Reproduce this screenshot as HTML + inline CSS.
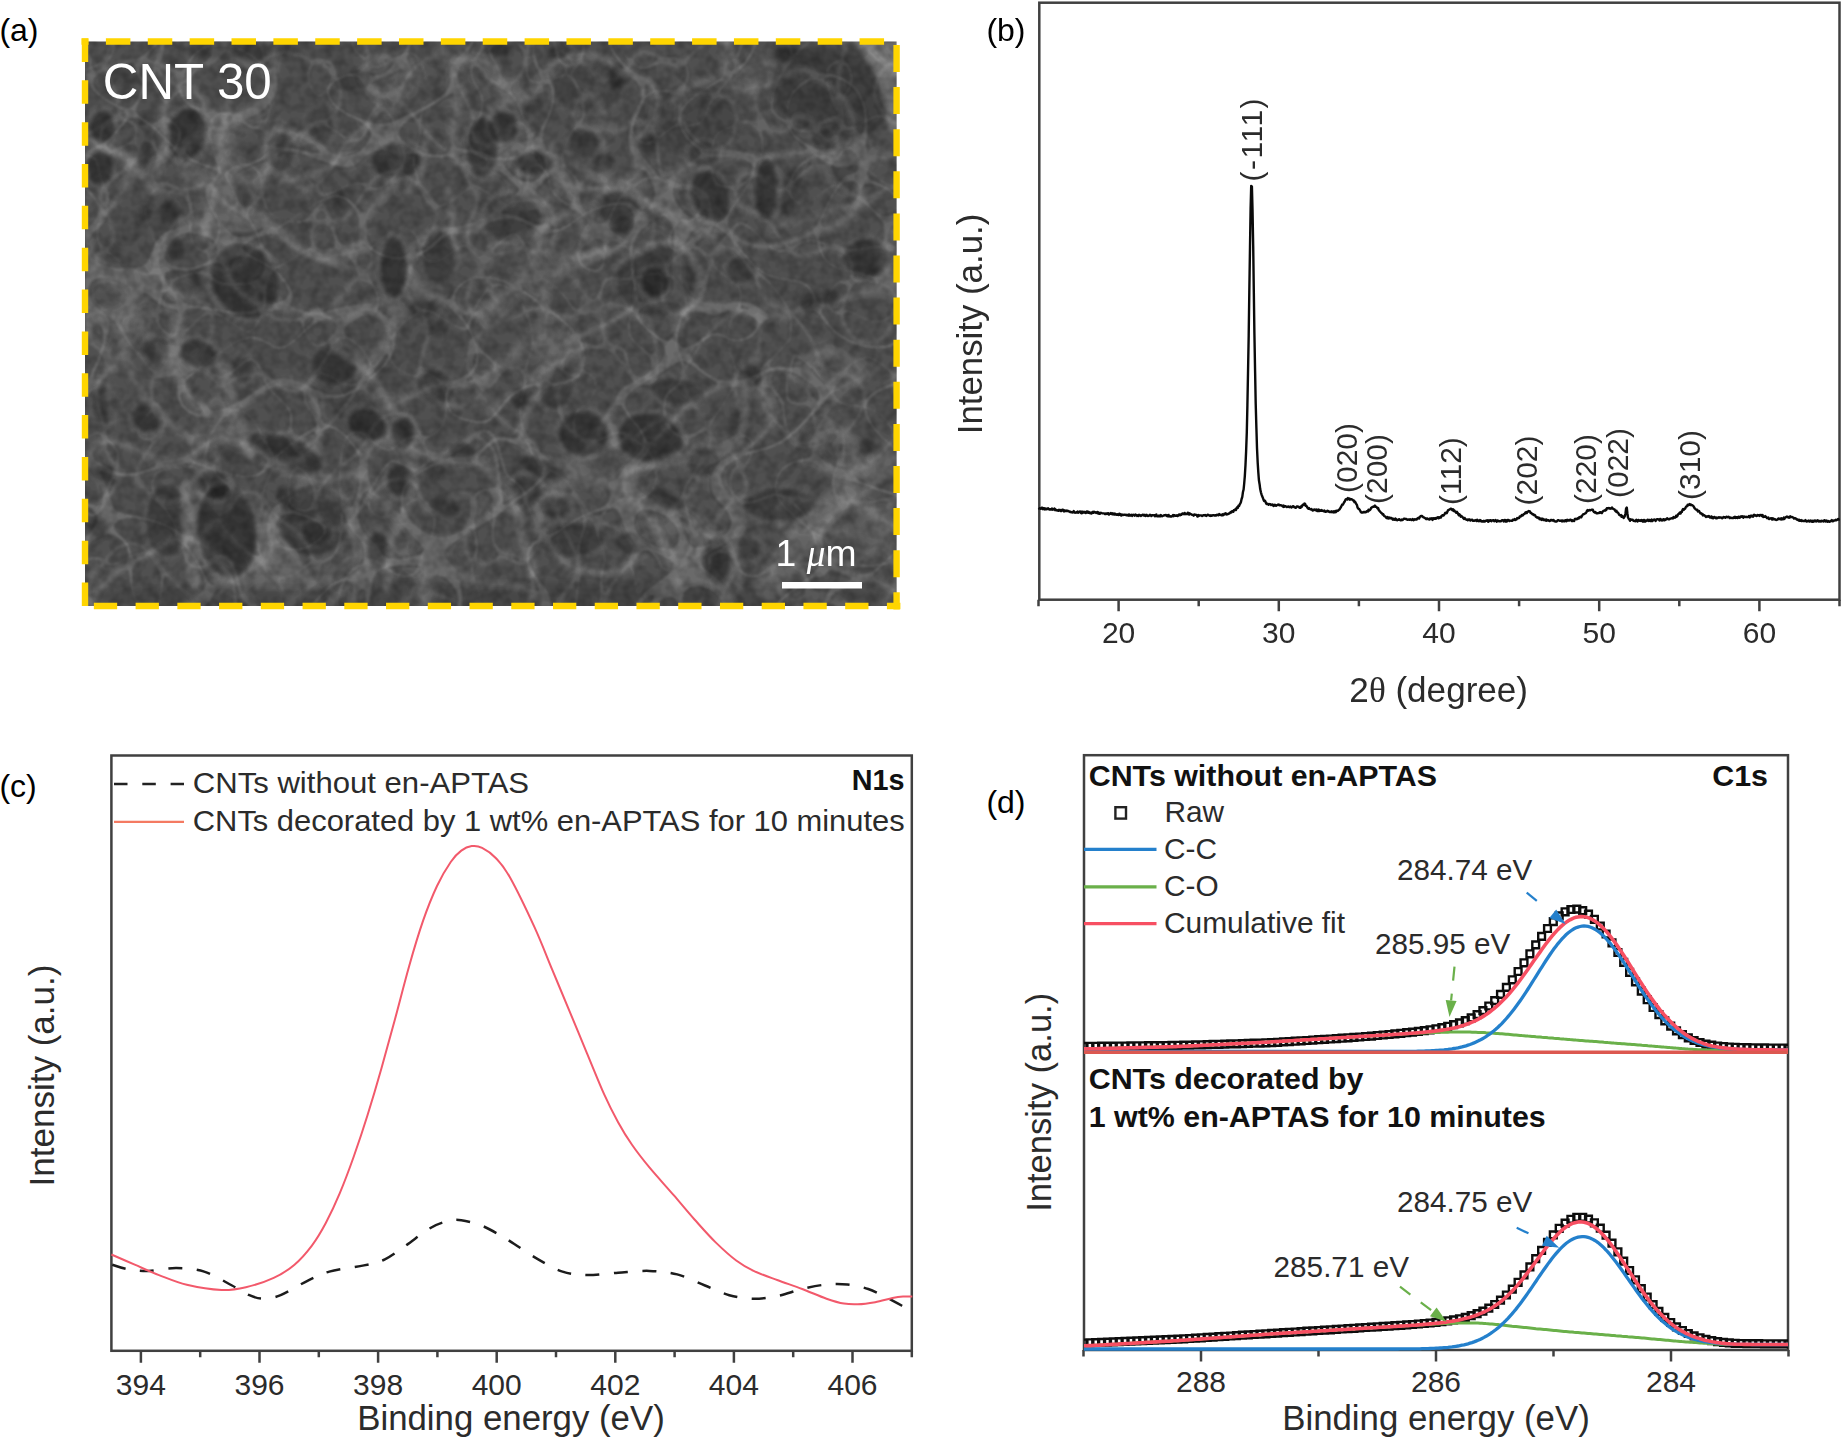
<!DOCTYPE html>
<html lang="en">
<head>
<meta charset="utf-8">
<title>Figure: CNT 30 SEM, XRD, N1s and C1s XPS</title>
<style>
html,body{margin:0;padding:0;background:#fff;}
body{width:1842px;height:1439px;overflow:hidden;}
svg{display:block;font-family:'Liberation Sans', Arial, Helvetica, sans-serif;}
</style>
</head>
<body>
<svg width="1842" height="1439" viewBox="0 0 1842 1439">
<g id="panel-a">
<text x="-0.6" y="40.6" font-size="32" fill="#000">(a)</text>
<defs><clipPath id="clipA"><rect x="85" y="41.5" width="811.6" height="564.5"/></clipPath>
<filter id="blurS" x="0" y="0" width="100%" height="100%" filterUnits="userSpaceOnUse" primitiveUnits="userSpaceOnUse"><feGaussianBlur stdDeviation="2.2"/></filter>
<filter id="blurF" x="0" y="0" width="100%" height="100%" filterUnits="userSpaceOnUse"><feGaussianBlur stdDeviation="2.2"/></filter>
<filter id="web" x="0" y="0" width="100%" height="100%"><feTurbulence type="turbulence" baseFrequency="0.011 0.013" numOctaves="1" seed="11" result="n"/><feColorMatrix in="n" type="matrix" values="0 0 0 0 1  0 0 0 0 1  0 0 0 0 1  -1.7 0 0 0 0.15"/><feGaussianBlur stdDeviation="1"/></filter>
<filter id="web2" x="0" y="0" width="100%" height="100%"><feTurbulence type="turbulence" baseFrequency="0.019 0.016" numOctaves="1" seed="23" result="n"/><feColorMatrix in="n" type="matrix" values="0 0 0 0 1  0 0 0 0 1  0 0 0 0 1  0 -1.5 0 0 0.11"/><feGaussianBlur stdDeviation="1"/></filter>
<filter id="grain" x="0" y="0" width="100%" height="100%"><feTurbulence type="fractalNoise" baseFrequency="0.09" numOctaves="2" seed="7" result="n"/><feColorMatrix in="n" type="matrix" values="0 0 0 0 0  0 0 0 0 0  0 0 0 0 0  0.5 0 0 0 -0.18"/></filter>
</defs>
<rect x="85" y="41.5" width="811.6" height="564.5" fill="#505050"/>
<g clip-path="url(#clipA)">
<rect x="85" y="41" width="812" height="566" filter="url(#web)"/>
<rect x="85" y="41" width="812" height="566" filter="url(#web2)"/>
<g filter="url(#blurS)"><ellipse cx="186.8" cy="133.9" rx="19" ry="26" fill="#000" opacity="0.3" transform="rotate(15 186.8 133.9)"/><ellipse cx="102.3" cy="127.3" rx="12" ry="16" fill="#000" opacity="0.3"/><ellipse cx="100" cy="167" rx="13" ry="17" fill="#000" opacity="0.3"/><ellipse cx="144.5" cy="140.6" rx="9" ry="26" fill="#000" opacity="0.2"/><ellipse cx="280.3" cy="151.7" rx="13" ry="19" fill="#000" opacity="0.2"/><ellipse cx="320.4" cy="125" rx="12" ry="19" fill="#000" opacity="0.11"/><ellipse cx="353.8" cy="80.5" rx="19" ry="9" fill="#000" opacity="0.2" transform="rotate(-15 353.8 80.5)"/><ellipse cx="396" cy="160.6" rx="24" ry="17" fill="#000" opacity="0.3"/><ellipse cx="482" cy="147.3" rx="15" ry="30" fill="#000" opacity="0.3"/><ellipse cx="242.5" cy="196.2" rx="7" ry="13" fill="#000" opacity="0.3" transform="rotate(-20 242.5 196.2)"/><ellipse cx="169" cy="211.8" rx="10" ry="11" fill="#000" opacity="0.3"/><ellipse cx="144.5" cy="214" rx="7" ry="9" fill="#000" opacity="0.2"/><ellipse cx="175.7" cy="249.7" rx="9" ry="10" fill="#000" opacity="0.3"/><ellipse cx="113.4" cy="249.7" rx="8" ry="8" fill="#000" opacity="0.2"/><ellipse cx="244.7" cy="280.8" rx="32" ry="38" fill="#000" opacity="0.3" transform="rotate(-30 244.7 280.8)"/><ellipse cx="393.8" cy="267.5" rx="13" ry="30" fill="#000" opacity="0.3"/><ellipse cx="438.3" cy="256.3" rx="16" ry="27" fill="#000" opacity="0.2"/><ellipse cx="338.2" cy="200.7" rx="8" ry="11" fill="#000" opacity="0.2"/><ellipse cx="422.8" cy="309.8" rx="15" ry="9" fill="#000" opacity="0.2"/><ellipse cx="195.7" cy="280.8" rx="6" ry="9" fill="#000" opacity="0.2"/><ellipse cx="240" cy="50" rx="62" ry="9" fill="#000" opacity="0.2"/><ellipse cx="120" cy="75" rx="24" ry="10" fill="#000" opacity="0.11"/><ellipse cx="503.4" cy="127.3" rx="14" ry="15" fill="#000" opacity="0.3"/><ellipse cx="534.5" cy="162.9" rx="19" ry="11" fill="#000" opacity="0.3"/><ellipse cx="532.3" cy="102.8" rx="9" ry="11" fill="#000" opacity="0.2"/><ellipse cx="583.5" cy="142.8" rx="15" ry="14" fill="#000" opacity="0.2"/><ellipse cx="616.9" cy="76" rx="9" ry="13" fill="#000" opacity="0.3"/><ellipse cx="587.9" cy="87.2" rx="35" ry="24" fill="#000" opacity="0.11"/><ellipse cx="648" cy="145" rx="9" ry="10" fill="#000" opacity="0.3" transform="rotate(30 648 145)"/><ellipse cx="603.5" cy="160.6" rx="11" ry="9" fill="#000" opacity="0.2" transform="rotate(30 603.5 160.6)"/><ellipse cx="512.3" cy="218.5" rx="28" ry="24" fill="#000" opacity="0.2"/><ellipse cx="616.9" cy="207.4" rx="22" ry="15" fill="#000" opacity="0.2"/><ellipse cx="623.5" cy="225" rx="9" ry="9" fill="#000" opacity="0.3"/><ellipse cx="654.7" cy="218.5" rx="9" ry="11" fill="#000" opacity="0.2"/><ellipse cx="710.3" cy="196.2" rx="18" ry="26" fill="#000" opacity="0.3" transform="rotate(-20 710.3 196.2)"/><ellipse cx="703.7" cy="154" rx="15" ry="11" fill="#000" opacity="0.2"/><ellipse cx="766" cy="189.6" rx="11" ry="31" fill="#000" opacity="0.3"/><ellipse cx="790.5" cy="191.8" rx="9" ry="24" fill="#000" opacity="0.2" transform="rotate(10 790.5 191.8)"/><ellipse cx="866.1" cy="258.6" rx="22" ry="19" fill="#000" opacity="0.3"/><ellipse cx="659.1" cy="280.8" rx="42" ry="35" fill="#000" opacity="0.2"/><ellipse cx="654.7" cy="282" rx="13" ry="15" fill="#000" opacity="0.3"/><ellipse cx="810.5" cy="303" rx="10" ry="12" fill="#000" opacity="0.3"/><ellipse cx="830.5" cy="298.6" rx="9" ry="8" fill="#000" opacity="0.3"/><ellipse cx="741.5" cy="269.7" rx="15" ry="13" fill="#000" opacity="0.2"/><ellipse cx="786" cy="54" rx="13" ry="8" fill="#000" opacity="0.3"/><ellipse cx="499" cy="49" rx="11" ry="7" fill="#000" opacity="0.3"/><ellipse cx="559" cy="51.6" rx="11" ry="7" fill="#000" opacity="0.3"/><ellipse cx="823.9" cy="140.6" rx="11" ry="11" fill="#000" opacity="0.2"/><ellipse cx="846" cy="169.5" rx="15" ry="22" fill="#000" opacity="0.11"/><ellipse cx="830" cy="92" rx="60" ry="44" fill="#000" opacity="0.2" transform="rotate(20 830 92)"/><ellipse cx="690" cy="120" rx="52" ry="32" fill="#000" opacity="0.11"/><ellipse cx="198" cy="353.4" rx="18" ry="13" fill="#000" opacity="0.3" transform="rotate(20 198 353.4)"/><ellipse cx="155.7" cy="349" rx="13" ry="11" fill="#000" opacity="0.2"/><ellipse cx="146.8" cy="418" rx="15" ry="13" fill="#000" opacity="0.3" transform="rotate(30 146.8 418)"/><ellipse cx="242.5" cy="369" rx="11" ry="12" fill="#000" opacity="0.2"/><ellipse cx="333.7" cy="364.5" rx="22" ry="20" fill="#000" opacity="0.2"/><ellipse cx="367" cy="424.6" rx="19" ry="15" fill="#000" opacity="0.3" transform="rotate(25 367 424.6)"/><ellipse cx="351.5" cy="395.7" rx="52" ry="24" fill="#000" opacity="0.11" transform="rotate(50 351.5 395.7)"/><ellipse cx="284.8" cy="453.5" rx="39" ry="16" fill="#000" opacity="0.3" transform="rotate(20 284.8 453.5)"/><ellipse cx="226.9" cy="451.3" rx="11" ry="9" fill="#000" opacity="0.2"/><ellipse cx="213.5" cy="484.7" rx="16" ry="13" fill="#000" opacity="0.3" transform="rotate(30 213.5 484.7)"/><ellipse cx="226.9" cy="531.4" rx="29" ry="46" fill="#000" opacity="0.3" transform="rotate(-8 226.9 531.4)"/><ellipse cx="166.8" cy="520.3" rx="20" ry="35" fill="#000" opacity="0.2"/><ellipse cx="104.5" cy="473.6" rx="11" ry="9" fill="#000" opacity="0.3"/><ellipse cx="97.8" cy="527" rx="9" ry="11" fill="#000" opacity="0.3"/><ellipse cx="402.7" cy="433.5" rx="11" ry="15" fill="#000" opacity="0.3"/><ellipse cx="400.5" cy="480.2" rx="13" ry="16" fill="#000" opacity="0.3"/><ellipse cx="313.7" cy="520.3" rx="35" ry="35" fill="#000" opacity="0.2"/><ellipse cx="287" cy="498" rx="10" ry="12" fill="#000" opacity="0.3"/><ellipse cx="316" cy="533.7" rx="14" ry="12" fill="#000" opacity="0.2"/><ellipse cx="445" cy="507" rx="15" ry="9" fill="#000" opacity="0.3" transform="rotate(15 445 507)"/><ellipse cx="436" cy="471.3" rx="9" ry="10" fill="#000" opacity="0.2"/><ellipse cx="378.2" cy="551.5" rx="11" ry="19" fill="#000" opacity="0.3"/><ellipse cx="462.8" cy="453.5" rx="13" ry="11" fill="#000" opacity="0.2"/><ellipse cx="436" cy="386.8" rx="19" ry="15" fill="#000" opacity="0.2" transform="rotate(40 436 386.8)"/><ellipse cx="438.3" cy="329" rx="9" ry="9" fill="#000" opacity="0.2"/><ellipse cx="104.5" cy="404.6" rx="12" ry="19" fill="#000" opacity="0.2"/><ellipse cx="490" cy="596" rx="402" ry="14" fill="#000" opacity="0.11"/><ellipse cx="583.5" cy="433.5" rx="24" ry="22" fill="#000" opacity="0.3"/><ellipse cx="650.2" cy="438" rx="32" ry="24" fill="#000" opacity="0.3" transform="rotate(10 650.2 438)"/><ellipse cx="556.8" cy="386.8" rx="16" ry="22" fill="#000" opacity="0.2" transform="rotate(15 556.8 386.8)"/><ellipse cx="677" cy="391.2" rx="26" ry="12" fill="#000" opacity="0.2" transform="rotate(10 677 391.2)"/><ellipse cx="519" cy="398" rx="8" ry="11" fill="#000" opacity="0.3"/><ellipse cx="750.4" cy="375.6" rx="10" ry="13" fill="#000" opacity="0.3" transform="rotate(-20 750.4 375.6)"/><ellipse cx="703.7" cy="462.4" rx="15" ry="14" fill="#000" opacity="0.2"/><ellipse cx="737" cy="424.6" rx="9" ry="13" fill="#000" opacity="0.2"/><ellipse cx="543.4" cy="469" rx="24" ry="9" fill="#000" opacity="0.3" transform="rotate(20 543.4 469)"/><ellipse cx="665.8" cy="500.3" rx="20" ry="8" fill="#000" opacity="0.3" transform="rotate(22 665.8 500.3)"/><ellipse cx="554.5" cy="507" rx="15" ry="11" fill="#000" opacity="0.2"/><ellipse cx="572.4" cy="540.3" rx="31" ry="16" fill="#000" opacity="0.2" transform="rotate(-5 572.4 540.3)"/><ellipse cx="717" cy="560.4" rx="13" ry="24" fill="#000" opacity="0.3"/><ellipse cx="779.3" cy="504.7" rx="35" ry="16" fill="#000" opacity="0.2"/><ellipse cx="819.4" cy="446.9" rx="24" ry="18" fill="#000" opacity="0.11"/><ellipse cx="866" cy="446.9" rx="8" ry="8" fill="#000" opacity="0.3"/><ellipse cx="525.6" cy="491.4" rx="15" ry="15" fill="#000" opacity="0.2"/><ellipse cx="632.4" cy="542.6" rx="16" ry="10" fill="#000" opacity="0.2"/><ellipse cx="748.2" cy="549.2" rx="11" ry="11" fill="#000" opacity="0.2"/></g>
<g filter="url(#blurF)" fill="none" stroke="#fff" stroke-linecap="round"><path d="M89 140.6C94.9 143.2 113.4 147.5 124.5 156C135.6 164.5 150.5 185.8 155.7 191.8" stroke-width="8" opacity="0.136"/><path d="M227 103C225.5 114.1 221.7 147.3 218 169.5C214.3 191.7 206.8 224.9 204.6 236" stroke-width="8" opacity="0.136"/><path d="M280 180.7C287.5 178.8 309.9 178.8 324.8 169.5C339.7 160.2 361.9 132.4 369.3 125" stroke-width="7" opacity="0.119"/><path d="M427 125C426.3 132.4 425.7 158.4 422.7 169.5C419.7 180.6 411.3 188.1 409 191.8" stroke-width="7" opacity="0.119"/><path d="M449.5 191.8C450.2 199.2 451.8 225.2 454 236.3C456.2 247.4 461.3 254.9 462.8 258.6" stroke-width="8" opacity="0.153"/><path d="M258 214C265.4 219.6 287.8 238.1 302.6 247.4C317.4 256.7 339.6 266 347 269.7" stroke-width="8" opacity="0.111"/><path d="M164.6 100C164.6 104.9 165.4 117.8 164.6 129.5C163.8 141.2 160.8 163.2 160 170" stroke-width="9" opacity="0.128"/><path d="M490 107C497.4 105.2 527.1 97.8 534.5 96" stroke-width="7" opacity="0.119"/><path d="M552 147C555.8 156.3 569.4 188.2 574.6 203C579.9 217.8 582 230.5 583.5 236" stroke-width="8" opacity="0.128"/><path d="M579 167C590.1 173 623.5 191.5 645.8 203C668.1 214.5 701.5 230.5 712.6 236" stroke-width="8" opacity="0.128"/><path d="M490 247C497.4 244.5 521.5 237.5 534.5 232C547.5 226.5 562.4 217 568 214" stroke-width="8" opacity="0.128"/><path d="M672.5 100.5C675.4 98.2 683.3 90.8 690 87C696.7 83.2 708.8 79.5 712.6 78" stroke-width="6" opacity="0.128"/><path d="M574.6 258C577.2 257.3 584.8 255.3 590 254C595.2 252.7 603.1 250.7 605.7 250" stroke-width="9" opacity="0.255"/><path d="M623 261C628.3 258.3 645.2 247.7 655 245C664.8 242.3 674.7 239 682 245C689.3 251 698.3 269.5 699 281C699.7 292.5 688.2 308.5 686 314" stroke-width="7" opacity="0.136"/><path d="M768 229.6C777.3 227 807.2 218.8 823.9 214C840.6 209.2 861 202.9 868.4 200.7" stroke-width="7" opacity="0.111"/><path d="M186.8 487C187.2 496.3 187.5 526.7 189 542.6C190.5 558.5 194.6 575.9 195.7 582.6" stroke-width="13" opacity="0.17"/><path d="M222.4 364.5C224.6 371.9 231.3 394.2 235.8 409C240.3 423.8 247 446.1 249.2 453.5" stroke-width="11" opacity="0.128"/><path d="M109 386.8C109.4 392.3 110.8 414.5 111.2 420" stroke-width="8" opacity="0.119"/><path d="M124.5 353.4C127.5 360.1 134.1 381.2 142.3 393.4C150.5 405.6 163.1 418.3 173.5 426.8C183.9 435.3 199.4 441.6 204.6 444.6" stroke-width="8" opacity="0.119"/><path d="M336 349C340.8 352.3 355.7 359 365 369C374.3 379 387.2 402.3 391.6 409" stroke-width="8" opacity="0.136"/><path d="M413.8 444.6C413.1 453.5 413.1 481.7 409.4 498C405.7 514.3 395.3 527.8 391.6 542.6C387.9 557.4 387.8 579.6 387 587" stroke-width="10" opacity="0.128"/><path d="M249 444.6C257.9 449.8 282.6 470.6 302.6 475.8C322.7 481 358.2 475.8 369.3 475.8" stroke-width="9" opacity="0.111"/><path d="M347 520C348.8 527.5 359.8 552 358 565C356.2 578 339.7 592.5 336 598" stroke-width="8" opacity="0.111"/><path d="M895 453.5C886.8 460.2 861.6 479.5 846 493.6C830.4 507.7 814.6 522.4 801.6 538C788.6 553.6 773.6 578.8 768 587" stroke-width="28" opacity="0.111"/><path d="M512.3 493.6C513.8 499.9 517.3 517.7 521 531.4C524.7 545.1 532.2 568.6 534.5 576" stroke-width="10" opacity="0.145"/><path d="M610 418C610.8 423.9 613.8 447.6 614.6 453.5" stroke-width="8" opacity="0.136"/><path d="M623.5 471.3C629.1 469.8 647.8 465.4 657 462.4C666.2 459.4 675.3 455 679 453.5" stroke-width="7" opacity="0.128"/><path d="M652.5 520.3C655.1 525.9 663.6 542.6 668 553.7C672.4 564.8 677.2 581.5 679 587" stroke-width="9" opacity="0.128"/><path d="M490 413.5C497.4 407.2 519.7 386.4 534.5 375.6C549.3 364.9 571.6 353.4 579 349" stroke-width="9" opacity="0.102"/><path d="M741.5 364.5C742.2 371.9 746.4 395.6 746 409C745.6 422.4 740.4 438.7 739.3 444.6" stroke-width="6" opacity="0.119"/><path d="M734.8 538C735.5 546.2 738.5 578.8 739.3 587" stroke-width="8" opacity="0.111"/><ellipse cx="186.8" cy="133.9" rx="22" ry="29" stroke-width="4" opacity="0.1" transform="rotate(15 186.8 133.9)"/><ellipse cx="102.3" cy="127.3" rx="15" ry="19" stroke-width="4" opacity="0.1"/><ellipse cx="100" cy="167" rx="16" ry="20" stroke-width="4" opacity="0.1"/><ellipse cx="280.3" cy="151.7" rx="16" ry="22" stroke-width="4" opacity="0.07"/><ellipse cx="320.4" cy="125" rx="15" ry="22" stroke-width="4" opacity="0.07"/><ellipse cx="396" cy="160.6" rx="27" ry="20" stroke-width="4" opacity="0.1"/><ellipse cx="482" cy="147.3" rx="18" ry="33" stroke-width="4" opacity="0.1"/><ellipse cx="244.7" cy="280.8" rx="35" ry="41" stroke-width="4" opacity="0.1" transform="rotate(-30 244.7 280.8)"/><ellipse cx="393.8" cy="267.5" rx="16" ry="33" stroke-width="4" opacity="0.1"/><ellipse cx="438.3" cy="256.3" rx="19" ry="30" stroke-width="4" opacity="0.07"/><ellipse cx="503.4" cy="127.3" rx="17" ry="18" stroke-width="4" opacity="0.1"/><ellipse cx="534.5" cy="162.9" rx="22" ry="14" stroke-width="4" opacity="0.1"/><ellipse cx="583.5" cy="142.8" rx="18" ry="17" stroke-width="4" opacity="0.07"/><ellipse cx="587.9" cy="87.2" rx="38" ry="27" stroke-width="4" opacity="0.07"/><ellipse cx="512.3" cy="218.5" rx="31" ry="27" stroke-width="4" opacity="0.07"/><ellipse cx="616.9" cy="207.4" rx="25" ry="18" stroke-width="4" opacity="0.07"/><ellipse cx="710.3" cy="196.2" rx="21" ry="29" stroke-width="4" opacity="0.1" transform="rotate(-20 710.3 196.2)"/><ellipse cx="703.7" cy="154" rx="18" ry="14" stroke-width="4" opacity="0.07"/><ellipse cx="766" cy="189.6" rx="14" ry="34" stroke-width="4" opacity="0.1"/><ellipse cx="866.1" cy="258.6" rx="25" ry="22" stroke-width="4" opacity="0.1"/><ellipse cx="659.1" cy="280.8" rx="45" ry="38" stroke-width="4" opacity="0.07"/><ellipse cx="654.7" cy="282" rx="16" ry="18" stroke-width="4" opacity="0.1"/><ellipse cx="741.5" cy="269.7" rx="18" ry="16" stroke-width="4" opacity="0.07"/><ellipse cx="823.9" cy="140.6" rx="14" ry="14" stroke-width="4" opacity="0.07"/><ellipse cx="846" cy="169.5" rx="18" ry="25" stroke-width="4" opacity="0.07"/><ellipse cx="198" cy="353.4" rx="21" ry="16" stroke-width="4" opacity="0.1" transform="rotate(20 198 353.4)"/><ellipse cx="155.7" cy="349" rx="16" ry="14" stroke-width="4" opacity="0.07"/><ellipse cx="146.8" cy="418" rx="18" ry="16" stroke-width="4" opacity="0.1" transform="rotate(30 146.8 418)"/><ellipse cx="242.5" cy="369" rx="14" ry="15" stroke-width="4" opacity="0.07"/><ellipse cx="333.7" cy="364.5" rx="25" ry="23" stroke-width="4" opacity="0.07"/><ellipse cx="367" cy="424.6" rx="22" ry="18" stroke-width="4" opacity="0.1" transform="rotate(25 367 424.6)"/><ellipse cx="284.8" cy="453.5" rx="42" ry="19" stroke-width="4" opacity="0.1" transform="rotate(20 284.8 453.5)"/><ellipse cx="213.5" cy="484.7" rx="19" ry="16" stroke-width="4" opacity="0.1" transform="rotate(30 213.5 484.7)"/><ellipse cx="226.9" cy="531.4" rx="32" ry="49" stroke-width="4" opacity="0.1" transform="rotate(-8 226.9 531.4)"/><ellipse cx="166.8" cy="520.3" rx="23" ry="38" stroke-width="4" opacity="0.07"/><ellipse cx="402.7" cy="433.5" rx="14" ry="18" stroke-width="4" opacity="0.1"/><ellipse cx="400.5" cy="480.2" rx="16" ry="19" stroke-width="4" opacity="0.1"/><ellipse cx="313.7" cy="520.3" rx="38" ry="38" stroke-width="4" opacity="0.07"/><ellipse cx="316" cy="533.7" rx="17" ry="15" stroke-width="4" opacity="0.07"/><ellipse cx="378.2" cy="551.5" rx="14" ry="22" stroke-width="4" opacity="0.1"/><ellipse cx="462.8" cy="453.5" rx="16" ry="14" stroke-width="4" opacity="0.07"/><ellipse cx="436" cy="386.8" rx="22" ry="18" stroke-width="4" opacity="0.07" transform="rotate(40 436 386.8)"/><ellipse cx="104.5" cy="404.6" rx="15" ry="22" stroke-width="4" opacity="0.07"/><ellipse cx="583.5" cy="433.5" rx="27" ry="25" stroke-width="4" opacity="0.1"/><ellipse cx="650.2" cy="438" rx="35" ry="27" stroke-width="4" opacity="0.1" transform="rotate(10 650.2 438)"/><ellipse cx="556.8" cy="386.8" rx="19" ry="25" stroke-width="4" opacity="0.07" transform="rotate(15 556.8 386.8)"/><ellipse cx="677" cy="391.2" rx="29" ry="15" stroke-width="4" opacity="0.07" transform="rotate(10 677 391.2)"/><ellipse cx="703.7" cy="462.4" rx="18" ry="17" stroke-width="4" opacity="0.07"/><ellipse cx="554.5" cy="507" rx="18" ry="14" stroke-width="4" opacity="0.07"/><ellipse cx="572.4" cy="540.3" rx="34" ry="19" stroke-width="4" opacity="0.07" transform="rotate(-5 572.4 540.3)"/><ellipse cx="717" cy="560.4" rx="16" ry="27" stroke-width="4" opacity="0.1"/><ellipse cx="779.3" cy="504.7" rx="38" ry="19" stroke-width="4" opacity="0.07"/><ellipse cx="819.4" cy="446.9" rx="27" ry="21" stroke-width="4" opacity="0.07"/><ellipse cx="525.6" cy="491.4" rx="18" ry="18" stroke-width="4" opacity="0.07"/><ellipse cx="748.2" cy="549.2" rx="14" ry="14" stroke-width="4" opacity="0.07"/><path d="M258 498L253.6 590L322 590Z" fill="#fff" stroke="none" opacity="0.13"/><path d="M852 40C872 62 884 92 888 130L900 140L900 40Z" fill="#fff" stroke="none" opacity="0.2"/></g>
<rect x="85" y="41" width="812" height="566" filter="url(#grain)"/>
</g>
<g fill="none" stroke="#ffd500" stroke-width="6.4">
<path d="M81.5 41.5H900" stroke-dasharray="24.5 17.37" stroke-dashoffset="17.47"/>
<path d="M896.6 38V609.4" stroke-dasharray="27 15.1" stroke-dashoffset="35.1"/>
<path d="M81.5 606H900.4" stroke-dasharray="23.3 18.44" stroke-dashoffset="29.38"/>
<path d="M85 36V609.4" stroke-dasharray="23.5 18.35" stroke-dashoffset="39.4"/>
</g>
<text x="102.8" y="99.3" font-size="49.3" fill="#fff">CNT 30</text>
<text x="775.6" y="565.7" font-size="37.3" fill="#fff">1 <tspan font-family="Liberation Serif, serif" font-style="italic">μ</tspan>m</text>
<rect x="782" y="582" width="80" height="6.5" fill="#fff"/>
</g>
<g id="panel-b">
<text x="986.4" y="40.6" font-size="32" fill="#000">(b)</text>
<rect x="1039.3" y="2.7" width="800.2" height="597" fill="none" stroke="#404040" stroke-width="2.5"/>
<path d="M1038.5 599.7v6.5M1118.6 599.7v11.5M1198.7 599.7v6.5M1278.8 599.7v11.5M1358.9 599.7v6.5M1439 599.7v11.5M1519.1 599.7v6.5M1599.2 599.7v11.5M1679.3 599.7v6.5M1759.4 599.7v11.5M1839.5 599.7v6.5" stroke="#404040" stroke-width="2.5" fill="none"/>
<text x="1118.6" y="642.9" font-size="30" fill="#2b2b2b" text-anchor="middle">20</text>
<text x="1278.8" y="642.9" font-size="30" fill="#2b2b2b" text-anchor="middle">30</text>
<text x="1439" y="642.9" font-size="30" fill="#2b2b2b" text-anchor="middle">40</text>
<text x="1599.2" y="642.9" font-size="30" fill="#2b2b2b" text-anchor="middle">50</text>
<text x="1759.4" y="642.9" font-size="30" fill="#2b2b2b" text-anchor="middle">60</text>
<text x="1438.7" y="701.5" font-size="35.1" fill="#2b2b2b" text-anchor="middle">2<tspan font-family="Liberation Serif, serif">θ</tspan> (degree)</text>
<text x="0" y="0" font-size="34.8" fill="#2b2b2b" text-anchor="middle" transform="translate(981.7,324) rotate(-90)">Intensity (a.u.)</text>
<path d="M1038.5 508L1039.1 508.5L1039.8 508.2L1040.4 508.7L1041.1 508.7L1041.7 507.7L1042.3 507.6L1043 509.2L1043.6 508.1L1044.3 508.1L1044.9 509.5L1045.5 508.6L1046.2 509.3L1046.8 508.7L1047.5 509.1L1048.1 508.2L1048.8 509.2L1049.4 509.6L1050 509.1L1050.7 509.5L1051.3 509.5L1052 508.4L1052.6 509.7L1053.2 509.5L1053.9 509L1054.5 508.6L1055.2 510.2L1055.8 509.6L1056.4 510.1L1057.1 510.5L1057.7 510.2L1058.4 510.7L1059 509.8L1059.6 510.6L1060.3 510.1L1060.9 511L1061.6 511L1062.2 509.7L1062.9 509.8L1063.5 510L1064.1 511.5L1064.8 510.6L1065.4 511L1066.1 510.5L1066.7 511L1067.3 510.8L1068 510.8L1068.6 511.3L1069.3 511.4L1069.9 512L1070.5 511.7L1071.2 512.2L1071.8 512.2L1072.5 512.5L1073.1 512L1073.7 511.1L1074.4 512.4L1075 512.7L1075.7 512.6L1076.3 512.1L1076.9 512.4L1077.6 511.5L1078.2 512.7L1078.9 512.3L1079.5 511.8L1080.2 511.4L1080.8 512.9L1081.4 513.2L1082.1 511.6L1082.7 512.9L1083.4 512.2L1084 511.8L1084.6 512L1085.3 512.9L1085.9 513.1L1086.6 511.6L1087.2 512.6L1087.8 511.6L1088.5 512.8L1089.1 512.1L1089.8 513.1L1090.4 513.3L1091 512.5L1091.7 513.4L1092.3 512.2L1093 511.8L1093.6 512.8L1094.2 511.8L1094.9 512.1L1095.5 512.5L1096.2 512.9L1096.8 512.1L1097.5 512L1098.1 513.5L1098.7 512.6L1099.4 513.8L1100 513.7L1100.7 512.8L1101.3 513L1101.9 513.2L1102.6 513.4L1103.2 513.4L1103.9 513.4L1104.5 513.6L1105.1 514.2L1105.8 513.5L1106.4 513.4L1107.1 514L1107.7 513.2L1108.3 513.3L1109 514.6L1109.6 513.8L1110.3 513.9L1110.9 513L1111.6 513.8L1112.2 514.2L1112.8 513.2L1113.5 514.4L1114.1 514.5L1114.8 513.5L1115.4 514.6L1116 514.3L1116.7 514.8L1117.3 514.2L1118 514.9L1118.6 515L1119.2 513.8L1119.9 513.9L1120.5 515.1L1121.2 515.6L1121.8 514.4L1122.4 514.8L1123.1 515.1L1123.7 514.7L1124.4 514.8L1125 514.7L1125.6 514.9L1126.3 515.3L1126.9 514.8L1127.6 515L1128.2 515.7L1128.9 514.4L1129.5 515.4L1130.1 515.7L1130.8 515L1131.4 514.8L1132.1 515.9L1132.7 514.9L1133.3 514.8L1134 515.2L1134.6 515.7L1135.3 514.6L1135.9 515L1136.5 515L1137.2 515.9L1137.8 515.2L1138.5 516L1139.1 514.8L1139.7 515.1L1140.4 515.6L1141 516L1141.7 515.3L1142.3 514.9L1143 514.7L1143.6 515.4L1144.2 514.8L1144.9 515.9L1145.5 516L1146.2 514.8L1146.8 515L1147.4 516L1148.1 515.7L1148.7 516L1149.4 515.2L1150 514.8L1150.6 515.1L1151.3 516L1151.9 515.1L1152.6 515.2L1153.2 515.3L1153.8 515.4L1154.5 515.3L1155.1 516.3L1155.8 514.9L1156.4 514.6L1157 516.3L1157.7 516.2L1158.3 516.4L1159 515.5L1159.6 516.4L1160.3 516.4L1160.9 515.1L1161.5 516.1L1162.2 516.2L1162.8 515.9L1163.5 515.7L1164.1 515.3L1164.7 515.4L1165.4 515.2L1166 514.9L1166.7 515.9L1167.3 515.3L1167.9 516.3L1168.6 514.9L1169.2 516.5L1169.9 516.1L1170.5 516.5L1171.1 516.5L1171.8 516.5L1172.4 515.9L1173.1 514.9L1173.7 516.2L1174.3 515.1L1175 515.3L1175.6 515.9L1176.3 515.6L1176.9 515.3L1177.6 516.1L1178.2 515.4L1178.8 514.7L1179.5 514.4L1180.1 515.3L1180.8 514.4L1181.4 514.8L1182 513.8L1182.7 513.4L1183.3 513.8L1184 514.2L1184.6 512.9L1185.2 514L1185.9 514.2L1186.5 514L1187.2 514.1L1187.8 512.7L1188.4 514L1189.1 514.6L1189.7 513.3L1190.4 513.9L1191 514.1L1191.7 514.7L1192.3 514.7L1192.9 515L1193.6 515.7L1194.2 514.4L1194.9 514.6L1195.5 514.8L1196.1 514.9L1196.8 514.9L1197.4 516.5L1198.1 516.3L1198.7 515L1199.3 515.7L1200 515.4L1200.6 515.4L1201.3 515.4L1201.9 516L1202.5 515.8L1203.2 515.4L1203.8 515.1L1204.5 515.3L1205.1 514.9L1205.7 515.7L1206.4 516L1207 515.3L1207.7 514.8L1208.3 514.9L1209 515.3L1209.6 515.7L1210.2 516L1210.9 515.2L1211.5 515.9L1212.2 515.6L1212.8 515.2L1213.4 515.1L1214.1 515.3L1214.7 515.6L1215.4 515.1L1216 515.5L1216.6 515L1217.3 514.6L1217.9 515.1L1218.6 515.3L1219.2 514.1L1219.8 514.7L1220.5 514.6L1221.1 515.4L1221.8 515.4L1222.4 514.3L1223.1 515.2L1223.7 514.9L1224.3 513.8L1225 514.1L1225.6 513.3L1226.3 514.5L1226.9 514L1227.5 514.3L1228.2 514L1228.8 513.5L1229.5 513.5L1230.1 512.9L1230.7 511.9L1231.4 512.5L1232 511.1L1232.7 511.1L1233.3 511.8L1233.9 510.1L1234.6 509.8L1235.2 509.3L1235.9 510.1L1236.5 508.2L1237.1 507.3L1237.8 507.9L1238.4 505.7L1239.1 506L1239.7 504.4L1240.4 503.3L1241 501.8L1241.6 499L1242.3 496.9L1242.9 492.3L1243.6 489.5L1244.2 483.5L1244.8 476.4L1245.5 464.8L1246.1 451.6L1246.8 432.4L1247.4 405.3L1248 373.5L1248.7 335.3L1249.3 292.4L1250 247.1L1250.6 208.7L1251.2 185.9L1251.9 186.4L1252.5 209.1L1253.2 246.3L1253.8 290.2L1254.4 333.3L1255.1 371.4L1255.7 403.4L1256.4 428L1257 448L1257.7 462.9L1258.3 472.1L1258.9 480L1259.6 484.2L1260.2 489.1L1260.9 492.2L1261.5 494.4L1262.1 496.1L1262.8 497.7L1263.4 499.4L1264.1 501L1264.7 500.6L1265.3 501.3L1266 503.1L1266.6 504L1267.3 503.7L1267.9 503.9L1268.5 504.7L1269.2 504L1269.8 504.3L1270.5 504.3L1271.1 505.1L1271.8 504.6L1272.4 504.5L1273 505.4L1273.7 505.9L1274.3 504.7L1275 505.4L1275.6 504.9L1276.2 505.7L1276.9 505.3L1277.5 504.8L1278.2 504.8L1278.8 504.5L1279.4 505.4L1280.1 505.4L1280.7 505.1L1281.4 505.5L1282 505.6L1282.6 506.4L1283.3 505.4L1283.9 507L1284.6 506.1L1285.2 506.4L1285.8 506.2L1286.5 507L1287.1 507L1287.8 506.6L1288.4 506.5L1289.1 507L1289.7 507.2L1290.3 506.5L1291 507.1L1291.6 507.5L1292.3 506.7L1292.9 506.3L1293.5 506.3L1294.2 507.2L1294.8 507.2L1295.5 507.7L1296.1 507.6L1296.7 506.5L1297.4 506.5L1298 506.7L1298.7 506.6L1299.3 507.6L1299.9 507.8L1300.6 507.7L1301.2 506.2L1301.9 506.8L1302.5 505.1L1303.2 504.6L1303.8 504.7L1304.4 503.5L1305.1 503.9L1305.7 505.9L1306.4 505.8L1307 506.9L1307.6 508L1308.3 508.8L1308.9 508L1309.6 508.9L1310.2 509.2L1310.8 509.5L1311.5 509.1L1312.1 509.9L1312.8 510.6L1313.4 509.7L1314 510.1L1314.7 509.4L1315.3 509.7L1316 510.5L1316.6 509.6L1317.2 511L1317.9 511.1L1318.5 509.6L1319.2 511.1L1319.8 510.1L1320.5 510.9L1321.1 510.9L1321.7 510.1L1322.4 510.9L1323 510.9L1323.7 511.3L1324.3 510.4L1324.9 511.4L1325.6 511.9L1326.2 511.5L1326.9 511.3L1327.5 510.7L1328.1 511.5L1328.8 511.3L1329.4 512.1L1330.1 512.1L1330.7 511.9L1331.3 511.3L1332 512.2L1332.6 512.1L1333.3 511.3L1333.9 512.5L1334.5 512L1335.2 510.9L1335.8 512.2L1336.5 510.6L1337.1 510.6L1337.8 511L1338.4 510.3L1339 509.7L1339.7 509.2L1340.3 508.1L1341 507L1341.6 505.7L1342.2 504.5L1342.9 504.6L1343.5 503.5L1344.2 502.1L1344.8 501.4L1345.4 499.9L1346.1 499.1L1346.7 498.9L1347.4 499.6L1348 498.1L1348.6 498.9L1349.3 498.6L1349.9 499.7L1350.6 499L1351.2 499.1L1351.9 499.4L1352.5 499.8L1353.1 500.6L1353.8 500.4L1354.4 502.1L1355.1 501.7L1355.7 503.1L1356.3 504L1357 505.2L1357.6 507.6L1358.3 508.7L1358.9 508.7L1359.5 509.6L1360.2 510.7L1360.8 511.9L1361.5 512.5L1362.1 512.6L1362.7 512.6L1363.4 511.9L1364 512.3L1364.7 511.9L1365.3 512.4L1365.9 512.2L1366.6 511.3L1367.2 511L1367.9 511.5L1368.5 509.7L1369.2 510.5L1369.8 510.1L1370.4 509.5L1371.1 507.9L1371.7 507.6L1372.4 507.1L1373 506.7L1373.6 506.9L1374.3 506.2L1374.9 505.6L1375.6 506.8L1376.2 506.6L1376.8 507.4L1377.5 508.4L1378.1 507.9L1378.8 510.1L1379.4 510.8L1380 511.4L1380.7 512.3L1381.3 513L1382 513.3L1382.6 514.5L1383.3 514.3L1383.9 515.6L1384.5 516.4L1385.2 516.4L1385.8 517L1386.5 518L1387.1 518.2L1387.7 517.1L1388.4 518.5L1389 518.4L1389.7 517.5L1390.3 518.2L1390.9 518.1L1391.6 518L1392.2 518.9L1392.9 519.7L1393.5 518.7L1394.1 519.8L1394.8 519.6L1395.4 518.6L1396.1 520L1396.7 519.6L1397.3 520.2L1398 519.8L1398.6 519.9L1399.3 519.2L1399.9 520L1400.6 520.3L1401.2 520.2L1401.8 519.4L1402.5 520L1403.1 519.5L1403.8 518.8L1404.4 518.7L1405 518.8L1405.7 519L1406.3 518.9L1407 519.5L1407.6 519.9L1408.2 519.6L1408.9 519.4L1409.5 519.8L1410.2 519.2L1410.8 519.5L1411.4 520L1412.1 519.4L1412.7 519L1413.4 520.3L1414 519.9L1414.6 519.3L1415.3 519.3L1415.9 519.5L1416.6 519.6L1417.2 518.7L1417.9 518L1418.5 518L1419.1 518.5L1419.8 516.7L1420.4 516.7L1421.1 515.9L1421.7 516L1422.3 516.2L1423 517.1L1423.6 517.3L1424.3 517.6L1424.9 518.1L1425.5 518.5L1426.2 519.2L1426.8 518.5L1427.5 518.4L1428.1 519.2L1428.7 519.1L1429.4 519.6L1430 518.4L1430.7 519L1431.3 518.9L1432 518.2L1432.6 519.9L1433.2 518.5L1433.9 518.2L1434.5 518.8L1435.2 518.1L1435.8 518.8L1436.4 518.2L1437.1 517.6L1437.7 517.3L1438.4 518.3L1439 517.2L1439.6 517.9L1440.3 517L1440.9 517.5L1441.6 516L1442.2 515.5L1442.8 515.1L1443.5 515.6L1444.1 514.8L1444.8 513.7L1445.4 512.7L1446 513.2L1446.7 513.1L1447.3 511.9L1448 510.3L1448.6 509.9L1449.3 509.6L1449.9 509.3L1450.5 508.8L1451.2 508.7L1451.8 509.7L1452.5 510.3L1453.1 509.2L1453.7 510.9L1454.4 510.4L1455 511.5L1455.7 512.2L1456.3 512.8L1456.9 511.8L1457.6 512.9L1458.2 514.1L1458.9 515.3L1459.5 514.3L1460.1 515.2L1460.8 516.7L1461.4 515.9L1462.1 516.8L1462.7 517.2L1463.4 518.2L1464 518.9L1464.6 517.9L1465.3 519.2L1465.9 519.4L1466.6 519.8L1467.2 519.5L1467.8 520.3L1468.5 519.5L1469.1 519.7L1469.8 519.5L1470.4 520.6L1471 520.1L1471.7 519.8L1472.3 519.7L1473 520.8L1473.6 520.6L1474.2 520.9L1474.9 520.3L1475.5 520.6L1476.2 520L1476.8 521.1L1477.4 519.8L1478.1 520.7L1478.7 521.2L1479.4 521.1L1480 520.1L1480.7 520.4L1481.3 521.5L1481.9 521.1L1482.6 521.6L1483.2 521.6L1483.9 520.8L1484.5 521.6L1485.1 521.4L1485.8 520.6L1486.4 520.7L1487.1 520.2L1487.7 520.8L1488.3 521.8L1489 520.3L1489.6 521.1L1490.3 520.3L1490.9 520.2L1491.5 521.2L1492.2 520.5L1492.8 520.2L1493.5 520.3L1494.1 521.2L1494.7 521.1L1495.4 520.1L1496 520.5L1496.7 521.8L1497.3 520.4L1498 521L1498.6 520.8L1499.2 521.4L1499.9 521.1L1500.5 521.4L1501.2 520.9L1501.8 520.3L1502.4 520.3L1503.1 520.1L1503.7 521.4L1504.4 520.1L1505 519.9L1505.6 521.6L1506.3 520.2L1506.9 521.4L1507.6 519.9L1508.2 520.5L1508.8 520.1L1509.5 521.1L1510.1 520.6L1510.8 520.6L1511.4 520.7L1512.1 520.8L1512.7 519.8L1513.3 520.1L1514 519.7L1514.6 518.9L1515.3 520L1515.9 519.4L1516.5 519.5L1517.2 518.1L1517.8 518.4L1518.5 518L1519.1 518.1L1519.7 516.5L1520.4 516.5L1521 516.3L1521.7 515.1L1522.3 515.5L1522.9 515.3L1523.6 514.2L1524.2 514.1L1524.9 513.6L1525.5 512.4L1526.1 512.3L1526.8 513.1L1527.4 511.7L1528.1 511.7L1528.7 511L1529.4 511.3L1530 511.4L1530.6 513L1531.3 513L1531.9 513.6L1532.6 514.3L1533.2 514.1L1533.8 515.1L1534.5 514.9L1535.1 515.2L1535.8 516.7L1536.4 517.1L1537 517.6L1537.7 517.2L1538.3 518.1L1539 517.8L1539.6 519.2L1540.2 519.4L1540.9 518.5L1541.5 519.9L1542.2 518.8L1542.8 518.8L1543.5 520.1L1544.1 519.5L1544.7 520L1545.4 520.4L1546 519.4L1546.7 520.7L1547.3 520L1547.9 520.3L1548.6 520.2L1549.2 521L1549.9 521L1550.5 520.2L1551.1 519.9L1551.8 520.3L1552.4 520.5L1553.1 519.9L1553.7 520.1L1554.3 521.2L1555 521.1L1555.6 521.6L1556.3 521.6L1556.9 521.4L1557.5 520.5L1558.2 520.1L1558.8 520.4L1559.5 520.7L1560.1 520.8L1560.8 520.8L1561.4 520.5L1562 521.4L1562.7 520.4L1563.3 520.7L1564 521.4L1564.6 521.3L1565.2 520.3L1565.9 520.2L1566.5 521.2L1567.2 519.8L1567.8 520L1568.4 520.6L1569.1 520.6L1569.7 519.9L1570.4 519.7L1571 519.9L1571.6 520.9L1572.3 520.2L1572.9 521.1L1573.6 520.6L1574.2 520.9L1574.8 519L1575.5 519.1L1576.1 518.7L1576.8 519.2L1577.4 518.8L1578.1 518L1578.7 518.5L1579.3 517.3L1580 517.3L1580.6 516.7L1581.3 517.2L1581.9 516L1582.5 515.1L1583.2 514.1L1583.8 514.1L1584.5 513.8L1585.1 513.3L1585.7 513.1L1586.4 512.3L1587 510.7L1587.7 510L1588.3 510.8L1588.9 510.5L1589.6 509.9L1590.2 510.4L1590.9 510L1591.5 509.7L1592.2 509.7L1592.8 509.8L1593.4 511.3L1594.1 512.1L1594.7 512.5L1595.4 512L1596 512.7L1596.6 513.4L1597.3 513.4L1597.9 513.1L1598.6 512.9L1599.2 513L1599.8 512.3L1600.5 512.2L1601.1 512.8L1601.8 513.1L1602.4 511.9L1603 511.3L1603.7 510.8L1604.3 510.5L1605 510.7L1605.6 509.7L1606.2 510.1L1606.9 508.3L1607.5 508.2L1608.2 508.3L1608.8 507.9L1609.5 508.6L1610.1 508.5L1610.7 508.7L1611.4 508.2L1612 507.4L1612.7 508.6L1613.3 509L1613.9 509.3L1614.6 509.4L1615.2 510.7L1615.9 511.6L1616.5 510.8L1617.1 512.4L1617.8 512.5L1618.4 513.3L1619.1 514.6L1619.7 515.3L1620.3 515.3L1621 515L1621.6 516.8L1622.3 516L1622.9 516.8L1623.6 518L1624.2 517.2L1624.8 516.1L1625.5 513.5L1626.1 508.5L1626.8 507.6L1627.4 513.2L1628 517.5L1628.7 518.8L1629.3 519.3L1630 520.8L1630.6 519.3L1631.2 519.7L1631.9 519.7L1632.5 519.6L1633.2 520.5L1633.8 520.9L1634.4 521.1L1635.1 520.8L1635.7 521.2L1636.4 519.8L1637 520.3L1637.6 521.5L1638.3 519.9L1638.9 520.3L1639.6 520.7L1640.2 520.3L1640.9 520.9L1641.5 520L1642.1 520.3L1642.8 521.6L1643.4 520.1L1644.1 521.4L1644.7 520.1L1645.3 521.6L1646 521L1646.6 520.9L1647.3 519.9L1647.9 519.7L1648.5 521L1649.2 519.9L1649.8 519.9L1650.5 521L1651.1 521L1651.7 519.5L1652.4 521.1L1653 520.3L1653.7 519.9L1654.3 519.4L1654.9 519.9L1655.6 520.9L1656.2 519.6L1656.9 519.3L1657.5 519.2L1658.2 519.2L1658.8 519.5L1659.4 520.5L1660.1 518.9L1660.7 519.1L1661.4 520.4L1662 520.5L1662.6 520.4L1663.3 519.1L1663.9 519.2L1664.6 520.3L1665.2 519.4L1665.8 519.7L1666.5 518.9L1667.1 518.3L1667.8 518.8L1668.4 519.4L1669 519.4L1669.7 518.9L1670.3 518.6L1671 518.5L1671.6 518.2L1672.3 518.1L1672.9 518.4L1673.5 517.1L1674.2 517.5L1674.8 517.8L1675.5 517.3L1676.1 515.7L1676.7 516.7L1677.4 516L1678 514.3L1678.7 514L1679.3 513.3L1679.9 512.4L1680.6 513.5L1681.2 511.8L1681.9 511.9L1682.5 509.9L1683.1 509L1683.8 509.8L1684.4 509L1685.1 508.6L1685.7 507.4L1686.3 506.5L1687 506.4L1687.6 504.8L1688.3 505.2L1688.9 504.8L1689.6 504.1L1690.2 504.9L1690.8 504.5L1691.5 505.1L1692.1 505.2L1692.8 505.5L1693.4 506.1L1694 507.1L1694.7 508.4L1695.3 508.9L1696 509.4L1696.6 510L1697.2 509.7L1697.9 511.5L1698.5 510.9L1699.2 511.2L1699.8 512.4L1700.4 513.3L1701.1 513.1L1701.7 514.1L1702.4 513.9L1703 515.5L1703.7 514.9L1704.3 515.3L1704.9 515.7L1705.6 516.5L1706.2 517L1706.9 516.3L1707.5 516.4L1708.1 516.8L1708.8 516L1709.4 516.8L1710.1 517.6L1710.7 517.6L1711.3 516.4L1712 517.9L1712.6 517.1L1713.3 518.3L1713.9 517.2L1714.5 517L1715.2 517.6L1715.8 518.3L1716.5 517.5L1717.1 518.3L1717.7 518L1718.4 517.4L1719 517.3L1719.7 517.7L1720.3 517.5L1721 517.4L1721.6 517.9L1722.2 518.3L1722.9 517.8L1723.5 517L1724.2 517.1L1724.8 517.4L1725.4 517.8L1726.1 516.9L1726.7 516.8L1727.4 517.2L1728 517.1L1728.6 516.7L1729.3 517.6L1729.9 518.2L1730.6 517.5L1731.2 517.9L1731.8 518L1732.5 518L1733.1 518.1L1733.8 517.3L1734.4 517.7L1735 516.7L1735.7 518L1736.3 517.1L1737 517.2L1737.6 518L1738.3 516.9L1738.9 516.7L1739.5 517.8L1740.2 517.4L1740.8 516.5L1741.5 516.3L1742.1 516.9L1742.7 516.3L1743.4 517.7L1744 516.5L1744.7 516.6L1745.3 516.8L1745.9 517L1746.6 516.8L1747.2 517.1L1747.9 517.1L1748.5 516.6L1749.1 515.9L1749.8 517.4L1750.4 516.8L1751.1 515.6L1751.7 516.1L1752.4 516.5L1753 516.8L1753.6 515L1754.3 514.8L1754.9 515.5L1755.6 515.3L1756.2 516.1L1756.8 515.9L1757.5 515L1758.1 515.1L1758.8 515.4L1759.4 516L1760 514.9L1760.7 515.3L1761.3 514.9L1762 516.1L1762.6 515.1L1763.2 517L1763.9 516.5L1764.5 516.8L1765.2 516.1L1765.8 516.6L1766.4 517.3L1767.1 518.2L1767.7 517.9L1768.4 517.6L1769 519.1L1769.7 518.7L1770.3 518.6L1770.9 518.1L1771.6 518.4L1772.2 519.6L1772.9 518.3L1773.5 519.1L1774.1 519.4L1774.8 518.9L1775.4 519.7L1776.1 520L1776.7 519.9L1777.3 519.7L1778 518.7L1778.6 518.4L1779.3 519L1779.9 518.8L1780.5 518.5L1781.2 519.6L1781.8 518.3L1782.5 519.2L1783.1 519.3L1783.8 517.6L1784.4 518.9L1785 517.7L1785.7 517.2L1786.3 516.9L1787 516.5L1787.6 517.2L1788.2 516.9L1788.9 517.7L1789.5 517.6L1790.2 516.3L1790.8 517L1791.4 517.1L1792.1 516.9L1792.7 517.3L1793.4 517.6L1794 518.6L1794.6 518.3L1795.3 518.2L1795.9 518.6L1796.6 519.3L1797.2 519.7L1797.8 519.4L1798.5 520.4L1799.1 519.7L1799.8 520.7L1800.4 520.7L1801.1 520L1801.7 521.1L1802.3 520.5L1803 520.8L1803.6 521L1804.3 521.1L1804.9 520.8L1805.5 520.1L1806.2 521.4L1806.8 521.6L1807.5 520.9L1808.1 521.1L1808.7 520.5L1809.4 521.6L1810 521.3L1810.7 520.4L1811.3 521.5L1811.9 521.8L1812.6 520.7L1813.2 521.8L1813.9 520.9L1814.5 520.4L1815.1 521.3L1815.8 520.6L1816.4 521.4L1817.1 521.1L1817.7 520.2L1818.4 521L1819 521.6L1819.6 520.9L1820.3 521L1820.9 521.6L1821.6 520.8L1822.2 520.9L1822.8 521.1L1823.5 521.5L1824.1 520.4L1824.8 520.2L1825.4 521.4L1826 521L1826.7 520.6L1827.3 521.7L1828 521.6L1828.6 521L1829.2 521.8L1829.9 521.6L1830.5 521.4L1831.2 520.6L1831.8 520.1L1832.5 521.2L1833.1 521.2L1833.7 520.4L1834.4 520.5L1835 520.5L1835.7 519.7L1836.3 520.3L1836.9 519.9L1837.6 519.5L1838.2 518.9L1838.9 519.6L1839.5 519.1" stroke="#0a0a0a" stroke-width="2.4" fill="none" stroke-linejoin="round"/>
<text x="0" y="0" font-size="30" fill="#2b2b2b" transform="translate(1261.7,181.6) rotate(-90)" textLength="83.2" lengthAdjust="spacing">(-111)</text>
<text x="0" y="0" font-size="30" fill="#2b2b2b" transform="translate(1357,493) rotate(-90)">(020)</text>
<text x="0" y="0" font-size="30" fill="#2b2b2b" transform="translate(1387,504) rotate(-90)">(200)</text>
<text x="0" y="0" font-size="30" fill="#2b2b2b" transform="translate(1461,505) rotate(-90)">(112)</text>
<text x="0" y="0" font-size="30" fill="#2b2b2b" transform="translate(1537.2,505.5) rotate(-90)">(202)</text>
<text x="0" y="0" font-size="30" fill="#2b2b2b" transform="translate(1596.1,504) rotate(-90)">(220)</text>
<text x="0" y="0" font-size="30" fill="#2b2b2b" transform="translate(1628.2,498) rotate(-90)">(022)</text>
<text x="0" y="0" font-size="30" fill="#2b2b2b" transform="translate(1699.8,500) rotate(-90)">(310)</text>
</g>
<g id="panel-c">
<text x="-0.6" y="797.1" font-size="32" fill="#000">(c)</text>
<rect x="111.4" y="755.5" width="800.4" height="595.3" fill="none" stroke="#404040" stroke-width="2.5"/>
<path d="M140.9 1350.8v12M200.2 1350.8v6.5M259.5 1350.8v12M318.8 1350.8v6.5M378.1 1350.8v12M437.4 1350.8v6.5M496.7 1350.8v12M556 1350.8v6.5M615.3 1350.8v12M674.6 1350.8v6.5M733.9 1350.8v12M793.2 1350.8v6.5M852.5 1350.8v12M911.8 1350.8v6.5" stroke="#404040" stroke-width="2.5" fill="none"/>
<text x="140.9" y="1394.8" font-size="30" fill="#2b2b2b" text-anchor="middle">394</text>
<text x="259.5" y="1394.8" font-size="30" fill="#2b2b2b" text-anchor="middle">396</text>
<text x="378.1" y="1394.8" font-size="30" fill="#2b2b2b" text-anchor="middle">398</text>
<text x="496.7" y="1394.8" font-size="30" fill="#2b2b2b" text-anchor="middle">400</text>
<text x="615.3" y="1394.8" font-size="30" fill="#2b2b2b" text-anchor="middle">402</text>
<text x="733.9" y="1394.8" font-size="30" fill="#2b2b2b" text-anchor="middle">404</text>
<text x="852.5" y="1394.8" font-size="30" fill="#2b2b2b" text-anchor="middle">406</text>
<text x="511" y="1430" font-size="34.8" fill="#2b2b2b" text-anchor="middle">Binding energy (eV)</text>
<text x="0" y="0" font-size="35" fill="#2b2b2b" text-anchor="middle" transform="translate(53.7,1075.5) rotate(-90)">Intensity (a.u.)</text>
<path d="M114 784H184" stroke="#222" stroke-width="2.6" stroke-dasharray="13.5 14.8" fill="none"/>
<path d="M114 821.9H184" stroke="#f47a62" stroke-width="2.4" fill="none"/>
<text x="192.8" y="793.3" font-size="29.6" fill="#2b2b2b" textLength="336.3" lengthAdjust="spacingAndGlyphs">CNTs without en-APTAS</text>
<text x="192.8" y="831.3" font-size="29.6" fill="#2b2b2b" textLength="711.8" lengthAdjust="spacingAndGlyphs">CNTs decorated by 1 wt% en-APTAS for 10 minutes</text>
<text x="904.6" y="790.2" font-size="28.8" fill="#111" font-weight="bold" text-anchor="end">N1s</text>
<path d="M112.2 1264.7C114.8 1265.5 121.7 1268.2 127.8 1269.2C133.9 1270.2 140.5 1271.1 148.6 1270.9C156.7 1270.7 167.1 1268 176.4 1268.1C185.7 1268.2 194.9 1268.7 204.2 1271.6C213.5 1274.5 224.5 1281.6 232 1285.5C239.5 1289.4 244.2 1293 249.4 1295.2C254.6 1297.4 258.1 1298.7 263.3 1298.7C268.5 1298.7 273.1 1298.3 280.6 1295.2C288.1 1292.1 300.3 1284.2 308.4 1280.3C316.5 1276.4 320 1274.1 329.3 1271.6C338.6 1269.1 354.7 1267.4 364 1265.4C373.3 1263.4 377.9 1262.7 384.9 1259.4C391.8 1256.1 398.2 1250.8 405.7 1245.6C413.2 1240.4 423.1 1232.3 430 1228.2C436.9 1224.1 442.2 1222.5 447.4 1221.2C452.6 1219.9 455.5 1219.4 461.3 1220.2C467.1 1221 475.2 1223 482.1 1225.8C489.1 1228.6 497.7 1233.9 503 1236.9C508.3 1239.9 508 1240 513.9 1243.8C519.8 1247.5 530.1 1254.8 538.2 1259.4C546.3 1264 554.4 1269 562.5 1271.6C570.6 1274.2 577.5 1274.9 586.8 1275.1C596.1 1275.3 607.7 1273.4 618.1 1272.7C628.5 1272 639.5 1270.6 649.4 1270.9C659.2 1271.2 667.9 1272 677.2 1274.4C686.5 1276.8 696.3 1282 705 1285.5C713.7 1289 721.2 1293 729.3 1295.2C737.4 1297.4 745.5 1298.6 753.6 1298.7C761.7 1298.8 769.8 1297.5 777.9 1295.9C786 1294.3 794.1 1290.9 802.2 1289C810.3 1287.1 819 1285.2 826.5 1284.5C834 1283.8 840.4 1283.8 847.4 1284.5C854.4 1285.2 861.3 1286.6 868.2 1289C875.1 1291.4 882.7 1295.5 889 1298.7C895.3 1301.9 903.2 1306.5 906 1308" stroke="#1c1c1c" stroke-width="2.5" stroke-dasharray="14 14.5" stroke-dashoffset="0" fill="none"/>
<path d="M111.4 1254.5C115.3 1256.2 126.8 1261.3 134.7 1264.7C142.6 1268.1 150.3 1271.8 159 1275.1C167.7 1278.4 176.4 1282.3 186.8 1284.8C197.2 1287.3 211.8 1289.6 221.6 1290C231.4 1290.4 237.2 1289.2 245.9 1287.2C254.6 1285.2 265.6 1281.7 273.7 1277.9C281.8 1274.2 288.1 1270.1 294.5 1264.7C300.9 1259.3 306.7 1252.5 311.9 1245.6C317.1 1238.6 321.2 1231.7 325.8 1223C330.4 1214.3 335.1 1204.4 339.7 1193.4C344.3 1182.4 349 1170 353.6 1157C358.2 1144 362.9 1130.1 367.5 1115.3C372.1 1100.5 376.8 1084.6 381.4 1068.4C386 1052.2 390.7 1035.1 395.3 1018C399.9 1000.9 404.6 982.1 409.2 965.9C413.8 949.7 418.5 934 423.1 920.7C427.7 907.4 432.4 895.8 437 886C441.6 876.2 446.8 867.6 450.9 861.7C454.9 855.8 457.8 853.2 461.3 850.6C464.8 848 468.2 846.6 471.7 846.1C475.2 845.6 478.1 845.8 482.1 847.8C486.2 849.8 491.4 853.3 496 858.2C500.6 863.1 503.4 865.7 509.9 877.3C516.4 888.9 527.7 912.4 534.7 927.7C541.7 943.1 546.3 955.5 552.1 969.4C557.9 983.3 563.7 997.2 569.5 1011.1C575.3 1025 581 1038.9 586.8 1052.8C592.6 1066.7 599 1082.8 604.2 1094.4C609.4 1106 613.5 1113.8 618.1 1122.2C622.7 1130.6 626.8 1137.3 632 1144.8C637.2 1152.3 642.4 1159 649.4 1167.4C656.4 1175.8 666.2 1186.5 673.7 1195.2C681.2 1203.9 687.5 1211.7 694.5 1219.5C701.5 1227.3 708.4 1235.3 715.4 1242.1C722.4 1248.9 729.8 1255.7 736.2 1260.5C742.6 1265.3 746.7 1267.6 753.6 1270.9C760.5 1274.2 769.8 1277.3 777.9 1280.3C786 1283.3 794.1 1285.9 802.2 1289C810.3 1292.1 819.5 1296.3 826.5 1298.7C833.5 1301.1 838.7 1302.7 843.9 1303.6C849.1 1304.5 852.6 1304.5 857.8 1304.3C863 1304.1 869.4 1303.2 875.2 1302.2C881 1301.2 887.9 1298.9 892.5 1298C897.1 1297.1 899.7 1296.8 903 1296.6C906.3 1296.4 910.8 1296.6 912.3 1296.6" stroke="#f2596b" stroke-width="2" fill="none"/>
</g>
<g id="panel-d">
<text x="986.4" y="813.1" font-size="32" fill="#000">(d)</text>
<rect x="1084" y="755.2" width="704" height="594.8" fill="none" stroke="#404040" stroke-width="2.5"/>
<path d="M1083.5 1350v6.5M1201 1350v11.5M1318.5 1350v6.5M1436 1350v11.5M1553.5 1350v6.5M1671 1350v11.5M1788.5 1350v6.5" stroke="#404040" stroke-width="2.5" fill="none"/>
<clipPath id="clipD1"><rect x="1084" y="757" width="704" height="296.5"/></clipPath>
<g clip-path="url(#clipD1)">
<path d="M1080.6 1043h6.8v6.8h-6.8zM1086.5 1042.9h6.8v6.8h-6.8zM1092.3 1042.9h6.8v6.8h-6.8zM1098.2 1042.8h6.8v6.8h-6.8zM1104.1 1042.8h6.8v6.8h-6.8zM1109.9 1042.7h6.8v6.8h-6.8zM1115.8 1042.6h6.8v6.8h-6.8zM1121.7 1042.6h6.8v6.8h-6.8zM1127.5 1042.5h6.8v6.8h-6.8zM1133.4 1042.4h6.8v6.8h-6.8zM1139.3 1042.4h6.8v6.8h-6.8zM1145.1 1042.3h6.8v6.8h-6.8zM1151 1042.3h6.8v6.8h-6.8zM1156.9 1042.2h6.8v6.8h-6.8zM1162.7 1042.1h6.8v6.8h-6.8zM1168.6 1042h6.8v6.8h-6.8zM1174.5 1041.9h6.8v6.8h-6.8zM1180.3 1041.8h6.8v6.8h-6.8zM1186.2 1041.7h6.8v6.8h-6.8zM1192.1 1041.5h6.8v6.8h-6.8zM1197.9 1041.4h6.8v6.8h-6.8zM1203.8 1041.2h6.8v6.8h-6.8zM1209.7 1041h6.8v6.8h-6.8zM1215.5 1040.9h6.8v6.8h-6.8zM1221.4 1040.7h6.8v6.8h-6.8zM1227.3 1040.5h6.8v6.8h-6.8zM1233.1 1040.4h6.8v6.8h-6.8zM1239 1040.2h6.8v6.8h-6.8zM1244.9 1040h6.8v6.8h-6.8zM1250.7 1039.8h6.8v6.8h-6.8zM1256.6 1039.7h6.8v6.8h-6.8zM1262.5 1039.4h6.8v6.8h-6.8zM1268.3 1039.2h6.8v6.8h-6.8zM1274.2 1038.9h6.8v6.8h-6.8zM1280.1 1038.5h6.8v6.8h-6.8zM1285.9 1038.2h6.8v6.8h-6.8zM1291.8 1037.8h6.8v6.8h-6.8zM1297.7 1037.4h6.8v6.8h-6.8zM1303.5 1037.1h6.8v6.8h-6.8zM1309.4 1036.7h6.8v6.8h-6.8zM1315.3 1036.3h6.8v6.8h-6.8zM1321.1 1036h6.8v6.8h-6.8zM1327 1035.6h6.8v6.8h-6.8zM1332.9 1035.2h6.8v6.8h-6.8zM1338.7 1034.8h6.8v6.8h-6.8zM1344.6 1034.4h6.8v6.8h-6.8zM1350.5 1034h6.8v6.8h-6.8zM1356.3 1033.6h6.8v6.8h-6.8zM1362.2 1033.1h6.8v6.8h-6.8zM1368.1 1032.7h6.8v6.8h-6.8zM1373.9 1032.1h6.8v6.8h-6.8zM1379.8 1031.6h6.8v6.8h-6.8zM1385.7 1031.1h6.8v6.8h-6.8zM1391.5 1030.5h6.8v6.8h-6.8zM1397.4 1029.9h6.8v6.8h-6.8zM1403.3 1029.3h6.8v6.8h-6.8zM1409.1 1028.7h6.8v6.8h-6.8zM1415 1028h6.8v6.8h-6.8zM1420.9 1027.2h6.8v6.8h-6.8zM1426.7 1026.4h6.8v6.8h-6.8zM1432.6 1025.4h6.8v6.8h-6.8zM1438.5 1024.2h6.8v6.8h-6.8zM1444.3 1022.9h6.8v6.8h-6.8zM1450.2 1021.3h6.8v6.8h-6.8zM1456.1 1019.5h6.8v6.8h-6.8zM1461.9 1017.2h6.8v6.8h-6.8zM1467.8 1014.5h6.8v6.8h-6.8zM1473.7 1011.2h6.8v6.8h-6.8zM1479.5 1007.2h6.8v6.8h-6.8zM1485.4 1002.6h6.8v6.8h-6.8zM1491.3 997.2h6.8v6.8h-6.8zM1497.1 991h6.8v6.8h-6.8zM1503 984h6.8v6.8h-6.8zM1508.9 976.4h6.8v6.8h-6.8zM1514.7 968.1h6.8v6.8h-6.8zM1520.6 959.4h6.8v6.8h-6.8zM1526.5 950.4h6.8v6.8h-6.8zM1532.3 941.5h6.8v6.8h-6.8zM1538.2 933h6.8v6.8h-6.8zM1544.1 925.1h6.8v6.8h-6.8zM1549.9 918.2h6.8v6.8h-6.8zM1555.8 912.5h6.8v6.8h-6.8zM1561.7 908.4h6.8v6.8h-6.8zM1567.5 906.1h6.8v6.8h-6.8zM1573.4 905.7h6.8v6.8h-6.8zM1579.3 907.3h6.8v6.8h-6.8zM1585.1 910.7h6.8v6.8h-6.8zM1591 915.9h6.8v6.8h-6.8zM1596.9 922.6h6.8v6.8h-6.8zM1602.7 930.6h6.8v6.8h-6.8zM1608.6 939.5h6.8v6.8h-6.8zM1614.5 949.1h6.8v6.8h-6.8zM1620.3 959h6.8v6.8h-6.8zM1626.2 968.9h6.8v6.8h-6.8zM1632.1 978.5h6.8v6.8h-6.8zM1637.9 987.7h6.8v6.8h-6.8zM1643.8 996.3h6.8v6.8h-6.8zM1649.7 1004.1h6.8v6.8h-6.8zM1655.5 1011.2h6.8v6.8h-6.8zM1661.4 1017.4h6.8v6.8h-6.8zM1667.3 1022.7h6.8v6.8h-6.8zM1673.1 1027.4h6.8v6.8h-6.8zM1679 1031.2h6.8v6.8h-6.8zM1684.9 1034.5h6.8v6.8h-6.8zM1690.7 1037.1h6.8v6.8h-6.8zM1696.6 1039.1h6.8v6.8h-6.8zM1702.5 1040.7h6.8v6.8h-6.8zM1708.3 1041.8h6.8v6.8h-6.8zM1714.2 1042.6h6.8v6.8h-6.8zM1720.1 1043.1h6.8v6.8h-6.8zM1725.9 1043.6h6.8v6.8h-6.8zM1731.8 1043.9h6.8v6.8h-6.8zM1737.7 1044.1h6.8v6.8h-6.8zM1743.5 1044.2h6.8v6.8h-6.8zM1749.4 1044.4h6.8v6.8h-6.8zM1755.3 1044.5h6.8v6.8h-6.8zM1761.1 1044.5h6.8v6.8h-6.8zM1767 1044.6h6.8v6.8h-6.8zM1772.9 1044.6h6.8v6.8h-6.8zM1778.7 1044.6h6.8v6.8h-6.8zM1784.6 1044.7h6.8v6.8h-6.8z" fill="none" stroke="#0d0d0d" stroke-width="2.4"/>
<path d="M1084 1048.9L1086 1048.9L1088 1048.8L1090 1048.8L1092 1048.8L1094 1048.7L1096 1048.7L1098 1048.6L1100 1048.6L1102 1048.5L1104 1048.5L1106 1048.4L1108 1048.4L1110 1048.3L1112 1048.3L1114 1048.2L1116 1048.2L1118 1048.1L1120 1048.1L1122 1048L1124 1048L1126 1047.9L1128 1047.9L1130 1047.8L1132 1047.7L1134 1047.7L1136 1047.6L1138 1047.6L1140 1047.5L1142 1047.5L1144 1047.4L1146 1047.4L1148 1047.3L1150 1047.3L1152 1047.2L1154 1047.2L1156 1047.1L1158 1047.1L1160 1047L1162 1047L1164 1046.9L1166 1046.9L1168 1046.8L1170 1046.7L1172 1046.7L1174 1046.6L1176 1046.6L1178 1046.5L1180 1046.4L1182 1046.3L1184 1046.2L1186 1046.2L1188 1046.1L1190 1046L1192 1045.9L1194 1045.8L1196 1045.7L1198 1045.6L1200 1045.5L1202 1045.4L1204 1045.3L1206 1045.2L1208 1045.1L1210 1045L1212 1044.9L1214 1044.8L1216 1044.7L1218 1044.6L1220 1044.5L1222 1044.4L1224 1044.3L1226 1044.2L1228 1044.1L1230 1044L1232 1043.9L1234 1043.8L1236 1043.7L1238 1043.6L1240 1043.5L1242 1043.4L1244 1043.3L1246 1043.2L1248 1043.1L1250 1043L1252 1042.9L1254 1042.8L1256 1042.7L1258 1042.6L1260 1042.5L1262 1042.4L1264 1042.3L1266 1042.2L1268 1042.1L1270 1042L1272 1041.8L1274 1041.7L1276 1041.6L1278 1041.5L1280 1041.4L1282 1041.3L1284 1041.1L1286 1041L1288 1040.9L1290 1040.8L1292 1040.7L1294 1040.5L1296 1040.4L1298 1040.3L1300 1040.2L1302 1040L1304 1039.9L1306 1039.8L1308 1039.7L1310 1039.6L1312 1039.4L1314 1039.3L1316 1039.2L1318 1039.1L1320 1038.9L1322 1038.8L1324 1038.7L1326 1038.6L1328 1038.5L1330 1038.3L1332 1038.2L1334 1038.1L1336 1038L1338 1037.8L1340 1037.7L1342 1037.6L1344 1037.5L1346 1037.4L1348 1037.2L1350 1037.1L1352 1037L1354 1036.9L1356 1036.7L1358 1036.6L1360 1036.5L1362 1036.4L1364 1036.3L1366 1036.2L1368 1036L1370 1035.9L1372 1035.8L1374 1035.7L1376 1035.6L1378 1035.4L1380 1035.3L1382 1035.2L1384 1035.1L1386 1035L1388 1034.9L1390 1034.7L1392 1034.6L1394 1034.5L1396 1034.4L1398 1034.3L1400 1034.2L1402 1034L1404 1033.9L1406 1033.8L1408 1033.7L1410 1033.6L1412 1033.5L1414 1033.4L1416 1033.3L1418 1033.2L1420 1033.1L1422 1033L1424 1032.9L1426 1032.8L1428 1032.7L1430 1032.7L1432 1032.6L1434 1032.5L1436 1032.5L1438 1032.4L1440 1032.3L1442 1032.3L1444 1032.2L1446 1032.2L1448 1032.2L1450 1032.1L1452 1032.1L1454 1032.1L1456 1032L1458 1032L1460 1032L1462 1032L1464 1032L1466 1032.1L1468 1032.1L1470 1032.1L1472 1032.2L1474 1032.3L1476 1032.3L1478 1032.4L1480 1032.5L1482 1032.5L1484 1032.6L1486 1032.8L1488 1032.9L1490 1033L1492 1033.1L1494 1033.3L1496 1033.4L1498 1033.5L1500 1033.7L1502 1033.8L1504 1034L1506 1034.2L1508 1034.3L1510 1034.5L1512 1034.7L1514 1034.9L1516 1035L1518 1035.2L1520 1035.4L1522 1035.6L1524 1035.7L1526 1035.9L1528 1036.1L1530 1036.2L1532 1036.4L1534 1036.6L1536 1036.8L1538 1036.9L1540 1037.1L1542 1037.3L1544 1037.4L1546 1037.6L1548 1037.8L1550 1037.9L1552 1038.1L1554 1038.3L1556 1038.4L1558 1038.6L1560 1038.8L1562 1038.9L1564 1039.1L1566 1039.2L1568 1039.4L1570 1039.6L1572 1039.7L1574 1039.9L1576 1040.1L1578 1040.2L1580 1040.4L1582 1040.5L1584 1040.7L1586 1040.9L1588 1041L1590 1041.2L1592 1041.3L1594 1041.5L1596 1041.6L1598 1041.8L1600 1042L1602 1042.1L1604 1042.3L1606 1042.4L1608 1042.6L1610 1042.7L1612 1042.9L1614 1043.1L1616 1043.2L1618 1043.4L1620 1043.5L1622 1043.7L1624 1043.8L1626 1044L1628 1044.2L1630 1044.3L1632 1044.5L1634 1044.6L1636 1044.8L1638 1045L1640 1045.1L1642 1045.3L1644 1045.4L1646 1045.6L1648 1045.8L1650 1045.9L1652 1046.1L1654 1046.2L1656 1046.4L1658 1046.6L1660 1046.7L1662 1046.9L1664 1047.1L1666 1047.2L1668 1047.4L1670 1047.6L1672 1047.7L1674 1047.9L1676 1048.1L1678 1048.2L1680 1048.4L1682 1048.6L1684 1048.7L1686 1048.9L1688 1049.1L1690 1049.2L1692 1049.3L1694 1049.5L1696 1049.6L1698 1049.7L1700 1049.8L1702 1049.8L1704 1049.9L1706 1050L1708 1050L1710 1050L1712 1050.1L1714 1050.1L1716 1050.1L1718 1050.1L1720 1050.1L1722 1050.1L1724 1050.1L1726 1050.1L1728 1050L1730 1050L1732 1050L1734 1050L1736 1050L1738 1050L1740 1050L1742 1050L1744 1050L1746 1050L1748 1050L1750 1050L1752 1050L1754 1050L1756 1050L1758 1050L1760 1050L1762 1050L1764 1050L1766 1050L1768 1050L1770 1050L1772 1050L1774 1050L1776 1050L1778 1050L1780 1050L1782 1050L1784 1050L1786 1050L1788 1050" fill="none" stroke="#6ab04a" stroke-width="3"/>
<path d="M1084 1051.5L1086 1051.5L1088 1051.5L1090 1051.5L1092 1051.5L1094 1051.5L1096 1051.5L1098 1051.5L1100 1051.5L1102 1051.5L1104 1051.5L1106 1051.5L1108 1051.5L1110 1051.5L1112 1051.5L1114 1051.5L1116 1051.5L1118 1051.5L1120 1051.5L1122 1051.5L1124 1051.5L1126 1051.5L1128 1051.5L1130 1051.5L1132 1051.5L1134 1051.5L1136 1051.5L1138 1051.5L1140 1051.5L1142 1051.5L1144 1051.5L1146 1051.5L1148 1051.5L1150 1051.5L1152 1051.5L1154 1051.5L1156 1051.5L1158 1051.5L1160 1051.5L1162 1051.5L1164 1051.5L1166 1051.5L1168 1051.5L1170 1051.5L1172 1051.5L1174 1051.5L1176 1051.5L1178 1051.5L1180 1051.5L1182 1051.5L1184 1051.5L1186 1051.5L1188 1051.5L1190 1051.5L1192 1051.5L1194 1051.5L1196 1051.5L1198 1051.5L1200 1051.5L1202 1051.5L1204 1051.5L1206 1051.5L1208 1051.5L1210 1051.5L1212 1051.5L1214 1051.5L1216 1051.5L1218 1051.5L1220 1051.5L1222 1051.5L1224 1051.5L1226 1051.5L1228 1051.5L1230 1051.5L1232 1051.5L1234 1051.5L1236 1051.5L1238 1051.5L1240 1051.5L1242 1051.5L1244 1051.5L1246 1051.5L1248 1051.5L1250 1051.5L1252 1051.5L1254 1051.5L1256 1051.5L1258 1051.5L1260 1051.5L1262 1051.5L1264 1051.5L1266 1051.5L1268 1051.5L1270 1051.5L1272 1051.5L1274 1051.5L1276 1051.5L1278 1051.5L1280 1051.5L1282 1051.5L1284 1051.5L1286 1051.5L1288 1051.5L1290 1051.5L1292 1051.5L1294 1051.5L1296 1051.5L1298 1051.5L1300 1051.5L1302 1051.5L1304 1051.5L1306 1051.5L1308 1051.5L1310 1051.5L1312 1051.5L1314 1051.5L1316 1051.5L1318 1051.5L1320 1051.5L1322 1051.5L1324 1051.5L1326 1051.5L1328 1051.5L1330 1051.5L1332 1051.5L1334 1051.5L1336 1051.5L1338 1051.5L1340 1051.5L1342 1051.5L1344 1051.5L1346 1051.5L1348 1051.5L1350 1051.5L1352 1051.5L1354 1051.5L1356 1051.5L1358 1051.5L1360 1051.5L1362 1051.5L1364 1051.5L1366 1051.5L1368 1051.5L1370 1051.5L1372 1051.5L1374 1051.5L1376 1051.5L1378 1051.5L1380 1051.5L1382 1051.5L1384 1051.5L1386 1051.5L1388 1051.5L1390 1051.5L1392 1051.5L1394 1051.5L1396 1051.4L1398 1051.4L1400 1051.4L1402 1051.4L1404 1051.4L1406 1051.4L1408 1051.4L1410 1051.3L1412 1051.3L1414 1051.3L1416 1051.3L1418 1051.2L1420 1051.2L1422 1051.1L1424 1051.1L1426 1051L1428 1050.9L1430 1050.8L1432 1050.7L1434 1050.6L1436 1050.5L1438 1050.4L1440 1050.2L1442 1050.1L1444 1049.9L1446 1049.6L1448 1049.4L1450 1049.1L1452 1048.9L1454 1048.5L1456 1048.2L1458 1047.8L1460 1047.3L1462 1046.9L1464 1046.3L1466 1045.8L1468 1045.1L1470 1044.5L1472 1043.7L1474 1042.9L1476 1042L1478 1041.1L1480 1040.1L1482 1039L1484 1037.8L1486 1036.6L1488 1035.2L1490 1033.8L1492 1032.3L1494 1030.7L1496 1029L1498 1027.2L1500 1025.3L1502 1023.3L1504 1021.2L1506 1019L1508 1016.7L1510 1014.3L1512 1011.8L1514 1009.2L1516 1006.5L1518 1003.8L1520 1001L1522 998.1L1524 995.1L1526 992.1L1528 989L1530 985.9L1532 982.7L1534 979.5L1536 976.3L1538 973.1L1540 969.9L1542 966.8L1544 963.6L1546 960.5L1548 957.5L1550 954.5L1552 951.6L1554 948.8L1556 946.2L1558 943.6L1560 941.2L1562 938.9L1564 936.8L1566 934.8L1568 933L1570 931.5L1572 930L1574 928.8L1576 927.8L1578 927.1L1580 926.5L1582 926.1L1584 926L1586 926.1L1588 926.4L1590 927L1592 927.7L1594 928.7L1596 929.8L1598 931.2L1600 932.8L1602 934.5L1604 936.4L1606 938.5L1608 940.8L1610 943.1L1612 945.7L1614 948.3L1616 951.1L1618 953.9L1620 956.8L1622 959.9L1624 962.9L1626 966L1628 969.2L1630 972.3L1632 975.5L1634 978.7L1636 981.8L1638 985L1640 988.1L1642 991.1L1644 994.1L1646 997.1L1648 999.9L1650 1002.8L1652 1005.5L1654 1008.1L1656 1010.7L1658 1013.2L1660 1015.5L1662 1017.8L1664 1020L1666 1022.1L1668 1024.1L1670 1026L1672 1027.7L1674 1029.4L1676 1031L1678 1032.5L1680 1034L1682 1035.3L1684 1036.5L1686 1037.7L1688 1038.8L1690 1039.8L1692 1040.7L1694 1041.6L1696 1042.4L1698 1043.1L1700 1043.8L1702 1044.4L1704 1045L1706 1045.5L1708 1045.9L1710 1046.4L1712 1046.8L1714 1047.1L1716 1047.4L1718 1047.7L1720 1048L1722 1048.2L1724 1048.4L1726 1048.6L1728 1048.8L1730 1048.9L1732 1049.1L1734 1049.2L1736 1049.3L1738 1049.4L1740 1049.5L1742 1049.5L1744 1049.6L1746 1049.7L1748 1049.7L1750 1049.7L1752 1049.8L1754 1049.8L1756 1049.8L1758 1049.9L1760 1049.9L1762 1049.9L1764 1049.9L1766 1049.9L1768 1049.9L1770 1050L1772 1050L1774 1050L1776 1050L1778 1050L1780 1050L1782 1050L1784 1050L1786 1050L1788 1050" fill="none" stroke="#2480cc" stroke-width="3.3"/>
<path d="M1084 1048.9L1086 1048.9L1088 1048.8L1090 1048.8L1092 1048.8L1094 1048.7L1096 1048.7L1098 1048.6L1100 1048.6L1102 1048.5L1104 1048.5L1106 1048.4L1108 1048.4L1110 1048.3L1112 1048.3L1114 1048.2L1116 1048.2L1118 1048.1L1120 1048.1L1122 1048L1124 1048L1126 1047.9L1128 1047.9L1130 1047.8L1132 1047.7L1134 1047.7L1136 1047.6L1138 1047.6L1140 1047.5L1142 1047.5L1144 1047.4L1146 1047.4L1148 1047.3L1150 1047.3L1152 1047.2L1154 1047.2L1156 1047.1L1158 1047.1L1160 1047L1162 1047L1164 1046.9L1166 1046.9L1168 1046.8L1170 1046.7L1172 1046.7L1174 1046.6L1176 1046.6L1178 1046.5L1180 1046.4L1182 1046.3L1184 1046.2L1186 1046.2L1188 1046.1L1190 1046L1192 1045.9L1194 1045.8L1196 1045.7L1198 1045.6L1200 1045.5L1202 1045.4L1204 1045.3L1206 1045.2L1208 1045.1L1210 1045L1212 1044.9L1214 1044.8L1216 1044.7L1218 1044.6L1220 1044.5L1222 1044.4L1224 1044.3L1226 1044.2L1228 1044.1L1230 1044L1232 1043.9L1234 1043.8L1236 1043.7L1238 1043.6L1240 1043.5L1242 1043.4L1244 1043.3L1246 1043.2L1248 1043.1L1250 1043L1252 1042.9L1254 1042.8L1256 1042.7L1258 1042.6L1260 1042.5L1262 1042.4L1264 1042.3L1266 1042.2L1268 1042.1L1270 1042L1272 1041.8L1274 1041.7L1276 1041.6L1278 1041.5L1280 1041.4L1282 1041.3L1284 1041.1L1286 1041L1288 1040.9L1290 1040.8L1292 1040.7L1294 1040.5L1296 1040.4L1298 1040.3L1300 1040.2L1302 1040L1304 1039.9L1306 1039.8L1308 1039.7L1310 1039.6L1312 1039.4L1314 1039.3L1316 1039.2L1318 1039.1L1320 1038.9L1322 1038.8L1324 1038.7L1326 1038.6L1328 1038.5L1330 1038.3L1332 1038.2L1334 1038.1L1336 1038L1338 1037.8L1340 1037.7L1342 1037.6L1344 1037.5L1346 1037.4L1348 1037.2L1350 1037.1L1352 1037L1354 1036.9L1356 1036.7L1358 1036.6L1360 1036.5L1362 1036.4L1364 1036.3L1366 1036.1L1368 1036L1370 1035.9L1372 1035.8L1374 1035.7L1376 1035.5L1378 1035.4L1380 1035.3L1382 1035.2L1384 1035.1L1386 1034.9L1388 1034.8L1390 1034.7L1392 1034.6L1394 1034.4L1396 1034.3L1398 1034.2L1400 1034L1402 1033.9L1404 1033.7L1406 1033.6L1408 1033.5L1410 1033.3L1412 1033.2L1414 1033L1416 1032.9L1418 1032.7L1420 1032.5L1422 1032.4L1424 1032.2L1426 1032L1428 1031.8L1430 1031.6L1432 1031.4L1434 1031.2L1436 1030.9L1438 1030.7L1440 1030.4L1442 1030.1L1444 1029.8L1446 1029.5L1448 1029.1L1450 1028.8L1452 1028.3L1454 1027.9L1456 1027.4L1458 1026.9L1460 1026.4L1462 1025.8L1464 1025.2L1466 1024.5L1468 1023.8L1470 1023L1472 1022.2L1474 1021.3L1476 1020.3L1478 1019.3L1480 1018.2L1482 1017.1L1484 1015.9L1486 1014.6L1488 1013.2L1490 1011.8L1492 1010.2L1494 1008.6L1496 1006.9L1498 1005.2L1500 1003.3L1502 1001.3L1504 999.3L1506 997.2L1508 995L1510 992.7L1512 990.4L1514 987.9L1516 985.4L1518 982.9L1520 980.2L1522 977.5L1524 974.8L1526 972L1528 969.2L1530 966.3L1532 963.5L1534 960.6L1536 957.7L1538 954.9L1540 952.1L1542 949.3L1544 946.5L1546 943.8L1548 941.2L1550 938.6L1552 936.2L1554 933.8L1556 931.6L1558 929.4L1560 927.4L1562 925.6L1564 923.9L1566 922.4L1568 921L1570 919.8L1572 918.8L1574 917.9L1576 917.3L1578 916.9L1580 916.6L1582 916.6L1584 916.7L1586 917.1L1588 917.6L1590 918.4L1592 919.4L1594 920.5L1596 921.9L1598 923.4L1600 925.1L1602 926.9L1604 928.9L1606 931.1L1608 933.4L1610 935.9L1612 938.5L1614 941.1L1616 943.9L1618 946.8L1620 949.8L1622 952.8L1624 955.8L1626 959L1628 962.1L1630 965.3L1632 968.5L1634 971.7L1636 974.9L1638 978.1L1640 981.2L1642 984.3L1644 987.4L1646 990.4L1648 993.4L1650 996.3L1652 999.1L1654 1001.9L1656 1004.6L1658 1007.2L1660 1009.8L1662 1012.2L1664 1014.6L1666 1016.8L1668 1019L1670 1021.1L1672 1023.1L1674 1025L1676 1026.8L1678 1028.6L1680 1030.2L1682 1031.8L1684 1033.3L1686 1034.7L1688 1036L1690 1037.2L1692 1038.4L1694 1039.4L1696 1040.4L1698 1041.3L1700 1042.2L1702 1042.9L1704 1043.7L1706 1044.3L1708 1044.9L1710 1045.4L1712 1045.9L1714 1046.3L1716 1046.7L1718 1047.1L1720 1047.4L1722 1047.7L1724 1047.9L1726 1048.1L1728 1048.4L1730 1048.5L1732 1048.7L1734 1048.9L1736 1049L1738 1049.1L1740 1049.2L1742 1049.3L1744 1049.4L1746 1049.5L1748 1049.5L1750 1049.6L1752 1049.7L1754 1049.7L1756 1049.7L1758 1049.8L1760 1049.8L1762 1049.8L1764 1049.9L1766 1049.9L1768 1049.9L1770 1049.9L1772 1049.9L1774 1049.9L1776 1050L1778 1050L1780 1050L1782 1050L1784 1050L1786 1050L1788 1050" fill="none" stroke="#f74f62" stroke-width="3.6"/>
</g>
<clipPath id="clipD2"><rect x="1084" y="1054" width="704" height="297"/></clipPath>
<g clip-path="url(#clipD2)">
<path d="M1080.6 1339.6h6.8v6.8h-6.8zM1086.5 1339.4h6.8v6.8h-6.8zM1092.3 1339.2h6.8v6.8h-6.8zM1098.2 1339h6.8v6.8h-6.8zM1104.1 1338.7h6.8v6.8h-6.8zM1109.9 1338.5h6.8v6.8h-6.8zM1115.8 1338.3h6.8v6.8h-6.8zM1121.7 1338h6.8v6.8h-6.8zM1127.5 1337.8h6.8v6.8h-6.8zM1133.4 1337.5h6.8v6.8h-6.8zM1139.3 1337.3h6.8v6.8h-6.8zM1145.1 1337h6.8v6.8h-6.8zM1151 1336.8h6.8v6.8h-6.8zM1156.9 1336.5h6.8v6.8h-6.8zM1162.7 1336.3h6.8v6.8h-6.8zM1168.6 1336h6.8v6.8h-6.8zM1174.5 1335.7h6.8v6.8h-6.8zM1180.3 1335.4h6.8v6.8h-6.8zM1186.2 1335.1h6.8v6.8h-6.8zM1192.1 1334.7h6.8v6.8h-6.8zM1197.9 1334.4h6.8v6.8h-6.8zM1203.8 1334h6.8v6.8h-6.8zM1209.7 1333.7h6.8v6.8h-6.8zM1215.5 1333.3h6.8v6.8h-6.8zM1221.4 1332.9h6.8v6.8h-6.8zM1227.3 1332.6h6.8v6.8h-6.8zM1233.1 1332.2h6.8v6.8h-6.8zM1239 1331.8h6.8v6.8h-6.8zM1244.9 1331.5h6.8v6.8h-6.8zM1250.7 1331.1h6.8v6.8h-6.8zM1256.6 1330.8h6.8v6.8h-6.8zM1262.5 1330.4h6.8v6.8h-6.8zM1268.3 1330h6.8v6.8h-6.8zM1274.2 1329.7h6.8v6.8h-6.8zM1280.1 1329.3h6.8v6.8h-6.8zM1285.9 1328.9h6.8v6.8h-6.8zM1291.8 1328.6h6.8v6.8h-6.8zM1297.7 1328.2h6.8v6.8h-6.8zM1303.5 1327.8h6.8v6.8h-6.8zM1309.4 1327.5h6.8v6.8h-6.8zM1315.3 1327.1h6.8v6.8h-6.8zM1321.1 1326.7h6.8v6.8h-6.8zM1327 1326.4h6.8v6.8h-6.8zM1332.9 1326h6.8v6.8h-6.8zM1338.7 1325.6h6.8v6.8h-6.8zM1344.6 1325.2h6.8v6.8h-6.8zM1350.5 1324.9h6.8v6.8h-6.8zM1356.3 1324.5h6.8v6.8h-6.8zM1362.2 1324.1h6.8v6.8h-6.8zM1368.1 1323.8h6.8v6.8h-6.8zM1373.9 1323.4h6.8v6.8h-6.8zM1379.8 1323h6.8v6.8h-6.8zM1385.7 1322.7h6.8v6.8h-6.8zM1391.5 1322.3h6.8v6.8h-6.8zM1397.4 1321.9h6.8v6.8h-6.8zM1403.3 1321.5h6.8v6.8h-6.8zM1409.1 1321.1h6.8v6.8h-6.8zM1415 1320.6h6.8v6.8h-6.8zM1420.9 1320.1h6.8v6.8h-6.8zM1426.7 1319.6h6.8v6.8h-6.8zM1432.6 1319h6.8v6.8h-6.8zM1438.5 1318.3h6.8v6.8h-6.8zM1444.3 1317.4h6.8v6.8h-6.8zM1450.2 1316.5h6.8v6.8h-6.8zM1456.1 1315.4h6.8v6.8h-6.8zM1461.9 1314h6.8v6.8h-6.8zM1467.8 1312.3h6.8v6.8h-6.8zM1473.7 1310.2h6.8v6.8h-6.8zM1479.5 1307.8h6.8v6.8h-6.8zM1485.4 1304.7h6.8v6.8h-6.8zM1491.3 1301.1h6.8v6.8h-6.8zM1497.1 1296.8h6.8v6.8h-6.8zM1503 1291.6h6.8v6.8h-6.8zM1508.9 1285.7h6.8v6.8h-6.8zM1514.7 1278.9h6.8v6.8h-6.8zM1520.6 1271.5h6.8v6.8h-6.8zM1526.5 1263.5h6.8v6.8h-6.8zM1532.3 1255.3h6.8v6.8h-6.8zM1538.2 1247h6.8v6.8h-6.8zM1544.1 1238.9h6.8v6.8h-6.8zM1549.9 1231.5h6.8v6.8h-6.8zM1555.8 1224.9h6.8v6.8h-6.8zM1561.7 1219.7h6.8v6.8h-6.8zM1567.5 1215.9h6.8v6.8h-6.8zM1573.4 1213.9h6.8v6.8h-6.8zM1579.3 1213.9h6.8v6.8h-6.8zM1585.1 1215.7h6.8v6.8h-6.8zM1591 1219.4h6.8v6.8h-6.8zM1596.9 1224.8h6.8v6.8h-6.8zM1602.7 1231.7h6.8v6.8h-6.8zM1608.6 1239.7h6.8v6.8h-6.8zM1614.5 1248.4h6.8v6.8h-6.8zM1620.3 1257.7h6.8v6.8h-6.8zM1626.2 1267.1h6.8v6.8h-6.8zM1632.1 1276.4h6.8v6.8h-6.8zM1637.9 1285.2h6.8v6.8h-6.8zM1643.8 1293.6h6.8v6.8h-6.8zM1649.7 1301.2h6.8v6.8h-6.8zM1655.5 1308h6.8v6.8h-6.8zM1661.4 1314h6.8v6.8h-6.8zM1667.3 1319.1h6.8v6.8h-6.8zM1673.1 1323.5h6.8v6.8h-6.8zM1679 1327.1h6.8v6.8h-6.8zM1684.9 1330.1h6.8v6.8h-6.8zM1690.7 1332.5h6.8v6.8h-6.8zM1696.6 1334.4h6.8v6.8h-6.8zM1702.5 1336h6.8v6.8h-6.8zM1708.3 1337.3h6.8v6.8h-6.8zM1714.2 1338.3h6.8v6.8h-6.8zM1720.1 1339h6.8v6.8h-6.8zM1725.9 1339.5h6.8v6.8h-6.8zM1731.8 1339.9h6.8v6.8h-6.8zM1737.7 1340.1h6.8v6.8h-6.8zM1743.5 1340.2h6.8v6.8h-6.8zM1749.4 1340.3h6.8v6.8h-6.8zM1755.3 1340.3h6.8v6.8h-6.8zM1761.1 1340.4h6.8v6.8h-6.8zM1767 1340.4h6.8v6.8h-6.8zM1772.9 1340.4h6.8v6.8h-6.8zM1778.7 1340.4h6.8v6.8h-6.8zM1784.6 1340.5h6.8v6.8h-6.8z" fill="none" stroke="#0d0d0d" stroke-width="2.4"/>
<path d="M1084 1345.8L1086 1345.7L1088 1345.6L1090 1345.6L1092 1345.5L1094 1345.4L1096 1345.3L1098 1345.2L1100 1345.1L1102 1345L1104 1344.9L1106 1344.7L1108 1344.6L1110 1344.5L1112 1344.4L1114 1344.3L1116 1344.2L1118 1344.1L1120 1343.9L1122 1343.8L1124 1343.7L1126 1343.6L1128 1343.5L1130 1343.4L1132 1343.2L1134 1343.1L1136 1343L1138 1342.9L1140 1342.8L1142 1342.7L1144 1342.6L1146 1342.4L1148 1342.3L1150 1342.2L1152 1342.1L1154 1342L1156 1341.9L1158 1341.8L1160 1341.6L1162 1341.5L1164 1341.4L1166 1341.3L1168 1341.2L1170 1341.1L1172 1340.9L1174 1340.8L1176 1340.7L1178 1340.6L1180 1340.4L1182 1340.3L1184 1340.2L1186 1340L1188 1339.9L1190 1339.8L1192 1339.6L1194 1339.5L1196 1339.3L1198 1339.2L1200 1339.1L1202 1338.9L1204 1338.8L1206 1338.6L1208 1338.5L1210 1338.3L1212 1338.2L1214 1338L1216 1337.9L1218 1337.8L1220 1337.6L1222 1337.5L1224 1337.3L1226 1337.2L1228 1337L1230 1336.9L1232 1336.7L1234 1336.6L1236 1336.5L1238 1336.3L1240 1336.2L1242 1336L1244 1335.9L1246 1335.7L1248 1335.6L1250 1335.4L1252 1335.3L1254 1335.2L1256 1335L1258 1334.9L1260 1334.7L1262 1334.6L1264 1334.4L1266 1334.3L1268 1334.2L1270 1334L1272 1333.9L1274 1333.8L1276 1333.6L1278 1333.5L1280 1333.4L1282 1333.3L1284 1333.1L1286 1333L1288 1332.9L1290 1332.8L1292 1332.7L1294 1332.5L1296 1332.4L1298 1332.3L1300 1332.2L1302 1332L1304 1331.9L1306 1331.8L1308 1331.7L1310 1331.6L1312 1331.4L1314 1331.3L1316 1331.2L1318 1331.1L1320 1330.9L1322 1330.8L1324 1330.7L1326 1330.6L1328 1330.5L1330 1330.3L1332 1330.2L1334 1330.1L1336 1330L1338 1329.8L1340 1329.7L1342 1329.6L1344 1329.5L1346 1329.4L1348 1329.2L1350 1329.1L1352 1329L1354 1328.9L1356 1328.7L1358 1328.6L1360 1328.5L1362 1328.4L1364 1328.3L1366 1328.1L1368 1328L1370 1327.9L1372 1327.8L1374 1327.7L1376 1327.6L1378 1327.4L1380 1327.3L1382 1327.2L1384 1327.1L1386 1327L1388 1326.9L1390 1326.7L1392 1326.6L1394 1326.5L1396 1326.4L1398 1326.3L1400 1326.2L1402 1326L1404 1325.9L1406 1325.8L1408 1325.7L1410 1325.6L1412 1325.5L1414 1325.3L1416 1325.2L1418 1325.1L1420 1325L1422 1324.9L1424 1324.8L1426 1324.6L1428 1324.5L1430 1324.4L1432 1324.3L1434 1324.2L1436 1324.1L1438 1323.9L1440 1323.8L1442 1323.7L1444 1323.6L1446 1323.5L1448 1323.4L1450 1323.3L1452 1323.3L1454 1323.2L1456 1323.1L1458 1323.1L1460 1323L1462 1323L1464 1323L1466 1322.9L1468 1322.9L1470 1322.9L1472 1323L1474 1323L1476 1323.1L1478 1323.1L1480 1323.2L1482 1323.3L1484 1323.4L1486 1323.6L1488 1323.7L1490 1323.9L1492 1324L1494 1324.2L1496 1324.4L1498 1324.6L1500 1324.9L1502 1325.1L1504 1325.3L1506 1325.5L1508 1325.7L1510 1325.9L1512 1326.2L1514 1326.4L1516 1326.6L1518 1326.8L1520 1327L1522 1327.2L1524 1327.4L1526 1327.6L1528 1327.8L1530 1328L1532 1328.2L1534 1328.4L1536 1328.7L1538 1328.9L1540 1329.1L1542 1329.3L1544 1329.5L1546 1329.6L1548 1329.8L1550 1330L1552 1330.2L1554 1330.4L1556 1330.6L1558 1330.8L1560 1331L1562 1331.2L1564 1331.4L1566 1331.5L1568 1331.7L1570 1331.9L1572 1332.1L1574 1332.3L1576 1332.4L1578 1332.6L1580 1332.8L1582 1333L1584 1333.1L1586 1333.3L1588 1333.5L1590 1333.6L1592 1333.8L1594 1334L1596 1334.1L1598 1334.3L1600 1334.5L1602 1334.6L1604 1334.8L1606 1335L1608 1335.1L1610 1335.3L1612 1335.5L1614 1335.6L1616 1335.8L1618 1335.9L1620 1336.1L1622 1336.3L1624 1336.4L1626 1336.6L1628 1336.8L1630 1336.9L1632 1337.1L1634 1337.3L1636 1337.5L1638 1337.6L1640 1337.8L1642 1338L1644 1338.1L1646 1338.3L1648 1338.5L1650 1338.7L1652 1338.9L1654 1339L1656 1339.2L1658 1339.4L1660 1339.6L1662 1339.8L1664 1340L1666 1340.2L1668 1340.3L1670 1340.5L1672 1340.7L1674 1340.9L1676 1341.1L1678 1341.2L1680 1341.4L1682 1341.6L1684 1341.7L1686 1341.9L1688 1342L1690 1342.2L1692 1342.3L1694 1342.5L1696 1342.6L1698 1342.7L1700 1342.9L1702 1343L1704 1343.2L1706 1343.3L1708 1343.4L1710 1343.6L1712 1343.7L1714 1343.8L1716 1344L1718 1344.1L1720 1344.2L1722 1344.2L1724 1344.3L1726 1344.4L1728 1344.5L1730 1344.5L1732 1344.5L1734 1344.6L1736 1344.6L1738 1344.6L1740 1344.6L1742 1344.6L1744 1344.6L1746 1344.6L1748 1344.6L1750 1344.6L1752 1344.6L1754 1344.6L1756 1344.6L1758 1344.6L1760 1344.6L1762 1344.6L1764 1344.6L1766 1344.6L1768 1344.5L1770 1344.5L1772 1344.5L1774 1344.5L1776 1344.5L1778 1344.5L1780 1344.5L1782 1344.5L1784 1344.5L1786 1344.5L1788 1344.5" fill="none" stroke="#6ab04a" stroke-width="3"/>
<path d="M1084 1349L1086 1349L1088 1349L1090 1349L1092 1349L1094 1349L1096 1349L1098 1349L1100 1349L1102 1349L1104 1349L1106 1349L1108 1349L1110 1349L1112 1349L1114 1349L1116 1349L1118 1349L1120 1349L1122 1349L1124 1349L1126 1349L1128 1349L1130 1349L1132 1349L1134 1349L1136 1349L1138 1349L1140 1349L1142 1349L1144 1349L1146 1349L1148 1349L1150 1349L1152 1349L1154 1349L1156 1349L1158 1349L1160 1349L1162 1349L1164 1349L1166 1349L1168 1349L1170 1349L1172 1349L1174 1349L1176 1349L1178 1349L1180 1349L1182 1349L1184 1349L1186 1349L1188 1349L1190 1349L1192 1349L1194 1349L1196 1349L1198 1349L1200 1349L1202 1349L1204 1349L1206 1349L1208 1349L1210 1349L1212 1349L1214 1349L1216 1349L1218 1349L1220 1349L1222 1349L1224 1349L1226 1349L1228 1349L1230 1349L1232 1349L1234 1349L1236 1349L1238 1349L1240 1349L1242 1349L1244 1349L1246 1349L1248 1349L1250 1349L1252 1349L1254 1349L1256 1349L1258 1349L1260 1349L1262 1349L1264 1349L1266 1349L1268 1349L1270 1349L1272 1349L1274 1349L1276 1349L1278 1349L1280 1349L1282 1349L1284 1349L1286 1349L1288 1349L1290 1349L1292 1349L1294 1349L1296 1349L1298 1349L1300 1349L1302 1349L1304 1349L1306 1349L1308 1349L1310 1349L1312 1349L1314 1349L1316 1349L1318 1349L1320 1349L1322 1349L1324 1349L1326 1349L1328 1349L1330 1349L1332 1349L1334 1349L1336 1349L1338 1349L1340 1349L1342 1349L1344 1349L1346 1349L1348 1349L1350 1349L1352 1349L1354 1349L1356 1349L1358 1349L1360 1349L1362 1349L1364 1349L1366 1349L1368 1349L1370 1349L1372 1349L1374 1349L1376 1349L1378 1349L1380 1349L1382 1349L1384 1349L1386 1349L1388 1349L1390 1349L1392 1349L1394 1349L1396 1349L1398 1349L1400 1348.9L1402 1348.9L1404 1348.9L1406 1348.9L1408 1348.9L1410 1348.9L1412 1348.9L1414 1348.8L1416 1348.8L1418 1348.8L1420 1348.8L1422 1348.7L1424 1348.7L1426 1348.6L1428 1348.6L1430 1348.5L1432 1348.4L1434 1348.3L1436 1348.2L1438 1348.1L1440 1348L1442 1347.9L1444 1347.7L1446 1347.6L1448 1347.4L1450 1347.1L1452 1346.9L1454 1346.6L1456 1346.3L1458 1346L1460 1345.6L1462 1345.2L1464 1344.8L1466 1344.3L1468 1343.8L1470 1343.2L1472 1342.6L1474 1341.9L1476 1341.1L1478 1340.3L1480 1339.4L1482 1338.4L1484 1337.4L1486 1336.3L1488 1335.1L1490 1333.8L1492 1332.5L1494 1331L1496 1329.5L1498 1327.9L1500 1326.2L1502 1324.3L1504 1322.4L1506 1320.4L1508 1318.3L1510 1316.1L1512 1313.9L1514 1311.5L1516 1309.1L1518 1306.5L1520 1303.9L1522 1301.3L1524 1298.5L1526 1295.7L1528 1292.9L1530 1290L1532 1287.1L1534 1284.1L1536 1281.2L1538 1278.2L1540 1275.3L1542 1272.4L1544 1269.5L1546 1266.7L1548 1263.9L1550 1261.2L1552 1258.5L1554 1256L1556 1253.6L1558 1251.3L1560 1249.1L1562 1247.1L1564 1245.2L1566 1243.5L1568 1242L1570 1240.6L1572 1239.5L1574 1238.5L1576 1237.7L1578 1237.1L1580 1236.8L1582 1236.6L1584 1236.7L1586 1236.9L1588 1237.4L1590 1238L1592 1238.9L1594 1240L1596 1241.2L1598 1242.6L1600 1244.3L1602 1246L1604 1247.9L1606 1250L1608 1252.2L1610 1254.5L1612 1257L1614 1259.5L1616 1262.1L1618 1264.8L1620 1267.5L1622 1270.3L1624 1273.1L1626 1276L1628 1278.9L1630 1281.7L1632 1284.6L1634 1287.4L1636 1290.2L1638 1293L1640 1295.7L1642 1298.4L1644 1301L1646 1303.5L1648 1306L1650 1308.4L1652 1310.7L1654 1312.9L1656 1315L1658 1317.1L1660 1319L1662 1320.9L1664 1322.6L1666 1324.3L1668 1325.9L1670 1327.4L1672 1328.8L1674 1330.1L1676 1331.3L1678 1332.5L1680 1333.6L1682 1334.6L1684 1335.5L1686 1336.3L1688 1337.1L1690 1337.9L1692 1338.5L1694 1339.1L1696 1339.7L1698 1340.2L1700 1340.7L1702 1341.1L1704 1341.5L1706 1341.8L1708 1342.2L1710 1342.4L1712 1342.7L1714 1342.9L1716 1343.1L1718 1343.3L1720 1343.5L1722 1343.6L1724 1343.7L1726 1343.8L1728 1343.9L1730 1344L1732 1344.1L1734 1344.2L1736 1344.2L1738 1344.3L1740 1344.3L1742 1344.3L1744 1344.4L1746 1344.4L1748 1344.4L1750 1344.4L1752 1344.5L1754 1344.5L1756 1344.5L1758 1344.5L1760 1344.5L1762 1344.5L1764 1344.5L1766 1344.5L1768 1344.5L1770 1344.5L1772 1344.5L1774 1344.5L1776 1344.5L1778 1344.5L1780 1344.5L1782 1344.5L1784 1344.5L1786 1344.5L1788 1344.5" fill="none" stroke="#2480cc" stroke-width="3.3"/>
<path d="M1084 1345.8L1086 1345.7L1088 1345.6L1090 1345.6L1092 1345.5L1094 1345.4L1096 1345.3L1098 1345.2L1100 1345.1L1102 1345L1104 1344.9L1106 1344.7L1108 1344.6L1110 1344.5L1112 1344.4L1114 1344.3L1116 1344.2L1118 1344.1L1120 1343.9L1122 1343.8L1124 1343.7L1126 1343.6L1128 1343.5L1130 1343.4L1132 1343.2L1134 1343.1L1136 1343L1138 1342.9L1140 1342.8L1142 1342.7L1144 1342.6L1146 1342.4L1148 1342.3L1150 1342.2L1152 1342.1L1154 1342L1156 1341.9L1158 1341.8L1160 1341.6L1162 1341.5L1164 1341.4L1166 1341.3L1168 1341.2L1170 1341.1L1172 1340.9L1174 1340.8L1176 1340.7L1178 1340.6L1180 1340.4L1182 1340.3L1184 1340.2L1186 1340L1188 1339.9L1190 1339.8L1192 1339.6L1194 1339.5L1196 1339.3L1198 1339.2L1200 1339.1L1202 1338.9L1204 1338.8L1206 1338.6L1208 1338.5L1210 1338.3L1212 1338.2L1214 1338L1216 1337.9L1218 1337.8L1220 1337.6L1222 1337.5L1224 1337.3L1226 1337.2L1228 1337L1230 1336.9L1232 1336.7L1234 1336.6L1236 1336.5L1238 1336.3L1240 1336.2L1242 1336L1244 1335.9L1246 1335.7L1248 1335.6L1250 1335.4L1252 1335.3L1254 1335.2L1256 1335L1258 1334.9L1260 1334.7L1262 1334.6L1264 1334.4L1266 1334.3L1268 1334.2L1270 1334L1272 1333.9L1274 1333.8L1276 1333.6L1278 1333.5L1280 1333.4L1282 1333.3L1284 1333.1L1286 1333L1288 1332.9L1290 1332.8L1292 1332.7L1294 1332.5L1296 1332.4L1298 1332.3L1300 1332.2L1302 1332L1304 1331.9L1306 1331.8L1308 1331.7L1310 1331.6L1312 1331.4L1314 1331.3L1316 1331.2L1318 1331.1L1320 1330.9L1322 1330.8L1324 1330.7L1326 1330.6L1328 1330.5L1330 1330.3L1332 1330.2L1334 1330.1L1336 1330L1338 1329.8L1340 1329.7L1342 1329.6L1344 1329.5L1346 1329.4L1348 1329.2L1350 1329.1L1352 1329L1354 1328.9L1356 1328.7L1358 1328.6L1360 1328.5L1362 1328.4L1364 1328.3L1366 1328.1L1368 1328L1370 1327.9L1372 1327.8L1374 1327.7L1376 1327.6L1378 1327.4L1380 1327.3L1382 1327.2L1384 1327.1L1386 1327L1388 1326.8L1390 1326.7L1392 1326.6L1394 1326.5L1396 1326.4L1398 1326.2L1400 1326.1L1402 1326L1404 1325.9L1406 1325.7L1408 1325.6L1410 1325.5L1412 1325.3L1414 1325.2L1416 1325.1L1418 1324.9L1420 1324.8L1422 1324.6L1424 1324.4L1426 1324.3L1428 1324.1L1430 1323.9L1432 1323.7L1434 1323.5L1436 1323.3L1438 1323.1L1440 1322.9L1442 1322.6L1444 1322.4L1446 1322.1L1448 1321.8L1450 1321.5L1452 1321.2L1454 1320.9L1456 1320.5L1458 1320.2L1460 1319.7L1462 1319.3L1464 1318.8L1466 1318.3L1468 1317.8L1470 1317.2L1472 1316.6L1474 1316L1476 1315.3L1478 1314.5L1480 1313.7L1482 1312.9L1484 1312L1486 1311L1488 1310L1490 1308.9L1492 1307.7L1494 1306.4L1496 1305.1L1498 1303.7L1500 1302.2L1502 1300.6L1504 1298.9L1506 1297.2L1508 1295.3L1510 1293.3L1512 1291.3L1514 1289.1L1516 1286.9L1518 1284.6L1520 1282.2L1522 1279.8L1524 1277.3L1526 1274.7L1528 1272.1L1530 1269.4L1532 1266.8L1534 1264L1536 1261.3L1538 1258.6L1540 1255.9L1542 1253.2L1544 1250.5L1546 1247.9L1548 1245.4L1550 1242.9L1552 1240.5L1554 1238.2L1556 1236L1558 1233.9L1560 1232L1562 1230.2L1564 1228.5L1566 1227.1L1568 1225.8L1570 1224.6L1572 1223.7L1574 1222.9L1576 1222.4L1578 1222L1580 1221.9L1582 1222L1584 1222.2L1586 1222.7L1588 1223.4L1590 1224.3L1592 1225.4L1594 1226.7L1596 1228.2L1598 1229.8L1600 1231.7L1602 1233.7L1604 1235.8L1606 1238.1L1608 1240.5L1610 1243.1L1612 1245.7L1614 1248.5L1616 1251.3L1618 1254.2L1620 1257.2L1622 1260.2L1624 1263.3L1626 1266.4L1628 1269.4L1630 1272.5L1632 1275.6L1634 1278.7L1636 1281.7L1638 1284.7L1640 1287.7L1642 1290.6L1644 1293.4L1646 1296.2L1648 1298.8L1650 1301.5L1652 1304L1654 1306.4L1656 1308.8L1658 1311.1L1660 1313.2L1662 1315.3L1664 1317.3L1666 1319.2L1668 1321L1670 1322.7L1672 1324.3L1674 1325.9L1676 1327.3L1678 1328.7L1680 1329.9L1682 1331.1L1684 1332.2L1686 1333.3L1688 1334.2L1690 1335.1L1692 1336L1694 1336.7L1696 1337.5L1698 1338.1L1700 1338.7L1702 1339.3L1704 1339.9L1706 1340.4L1708 1340.8L1710 1341.3L1712 1341.7L1714 1342L1716 1342.4L1718 1342.7L1720 1342.9L1722 1343.2L1724 1343.4L1726 1343.6L1728 1343.7L1730 1343.9L1732 1344L1734 1344.1L1736 1344.2L1738 1344.3L1740 1344.3L1742 1344.3L1744 1344.4L1746 1344.4L1748 1344.4L1750 1344.4L1752 1344.5L1754 1344.5L1756 1344.5L1758 1344.5L1760 1344.5L1762 1344.5L1764 1344.5L1766 1344.5L1768 1344.5L1770 1344.5L1772 1344.5L1774 1344.5L1776 1344.5L1778 1344.5L1780 1344.5L1782 1344.5L1784 1344.5L1786 1344.5L1788 1344.5" fill="none" stroke="#f74f62" stroke-width="3.6"/>
</g>
<path d="M1084 1052.2H1788" stroke="#dc5850" stroke-width="3.4" fill="none"/>
<text x="1201" y="1392" font-size="30" fill="#2b2b2b" text-anchor="middle">288</text>
<text x="1436" y="1392" font-size="30" fill="#2b2b2b" text-anchor="middle">286</text>
<text x="1671" y="1392" font-size="30" fill="#2b2b2b" text-anchor="middle">284</text>
<text x="1436" y="1430" font-size="34.8" fill="#2b2b2b" text-anchor="middle">Binding energy (eV)</text>
<text x="0" y="0" font-size="34.6" fill="#2b2b2b" text-anchor="middle" transform="translate(1051.3,1102.3) rotate(-90)">Intensity (a.u.)</text>
<text x="1088.7" y="785.6" font-size="30.4" fill="#111" font-weight="bold">CNTs without en-APTAS</text>
<text x="1768" y="785.6" font-size="30.4" fill="#111" font-weight="bold" text-anchor="end">C1s</text>
<text x="1088.7" y="1089.2" font-size="30.4" fill="#111" font-weight="bold">CNTs decorated by</text>
<text x="1088.7" y="1126.8" font-size="30.4" fill="#111" font-weight="bold">1 wt% en-APTAS for 10 minutes</text>
<rect x="1115.4" y="807.2" width="10.6" height="11.4" fill="#fff" stroke="#222" stroke-width="2.4"/>
<path d="M1084 849.4H1156.5" stroke="#2480cc" stroke-width="3.3"/>
<path d="M1084 886.9H1156.5" stroke="#6ab04a" stroke-width="3.3"/>
<path d="M1084 923.7H1156.5" stroke="#f74f62" stroke-width="3.3"/>
<text x="1164.5" y="822.4" font-size="29.8" fill="#2b2b2b">Raw</text>
<text x="1164" y="859.2" font-size="29.8" fill="#2b2b2b">C-C</text>
<text x="1164" y="896" font-size="29.8" fill="#2b2b2b">C-O</text>
<text x="1164" y="932.7" font-size="29.9" fill="#2b2b2b">Cumulative fit</text>
<text x="1397" y="880.2" font-size="29.7" fill="#2b2b2b">284.74 eV</text>
<text x="1375" y="954.2" font-size="29.7" fill="#2b2b2b">285.95 eV</text>
<text x="1397" y="1211.5" font-size="29.7" fill="#2b2b2b">284.75 eV</text>
<text x="1273.6" y="1276.6" font-size="29.7" fill="#2b2b2b">285.71 eV</text>
<path d="M1526.7 892.7L1552.7 913.7" stroke="#2480cc" stroke-width="2.2" stroke-dasharray="13 40" fill="none"/>
<path d="M1565.6 924L1549.3 917.9L1556.2 909.4z" fill="#2480cc"/>
<path d="M1454.5 966.7L1451.1 1000.5" stroke="#6ab04a" stroke-width="2.2" stroke-dasharray="14 13" fill="none"/>
<path d="M1449.5 1016.9L1445.7 999.9L1456.6 1001z" fill="#6ab04a"/>
<path d="M1516.7 1227.8L1544.4 1240.8" stroke="#2480cc" stroke-width="2.2" stroke-dasharray="13 40" fill="none"/>
<path d="M1559.3 1247.8L1542 1245.8L1546.7 1235.8z" fill="#2480cc"/>
<path d="M1400 1286.7L1433.3 1311.9" stroke="#6ab04a" stroke-width="2.2" stroke-dasharray="13 13" fill="none"/>
<path d="M1446.5 1321.8L1430 1316.2L1436.6 1307.5z" fill="#6ab04a"/>
</g>
</svg>
</body>
</html>
